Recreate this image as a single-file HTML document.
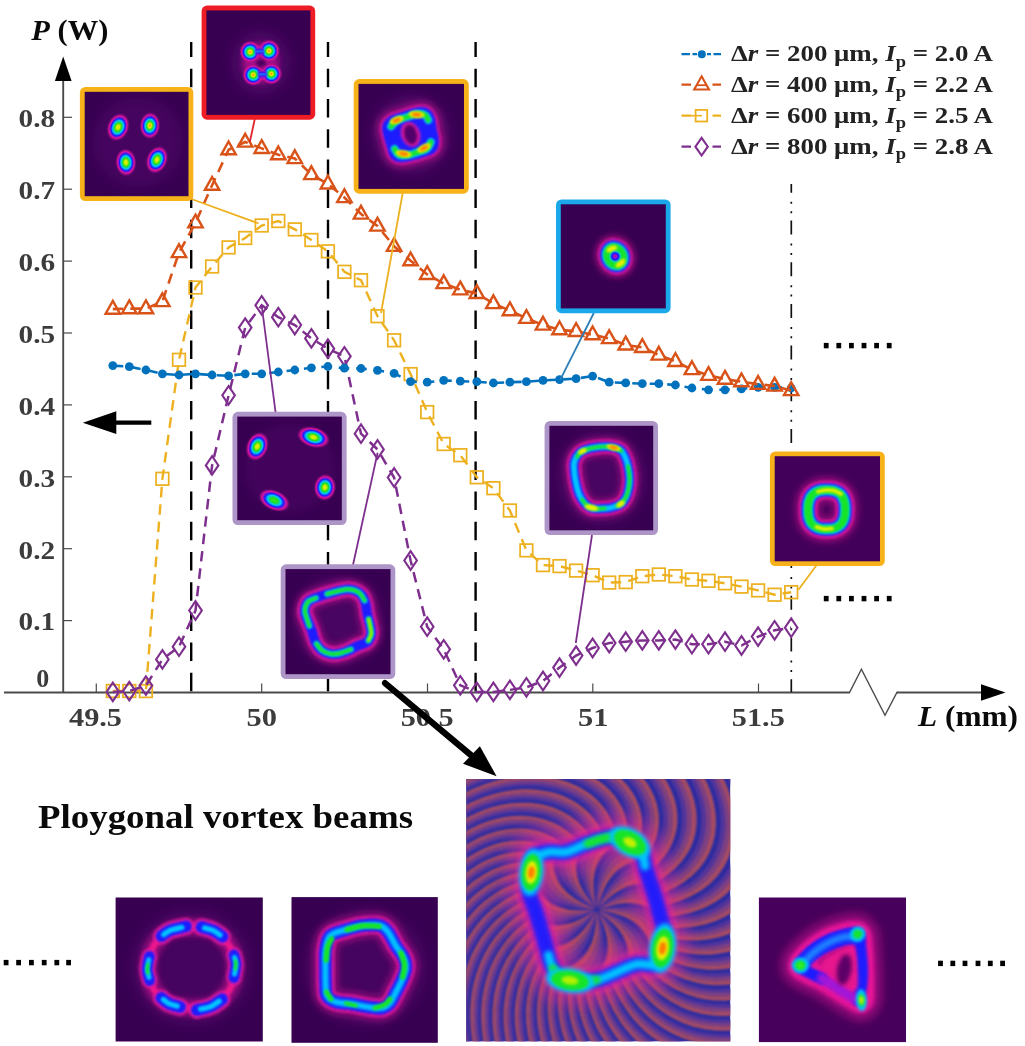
<!DOCTYPE html>
<html lang="en">
<head>
<meta charset="utf-8">
<title>Polygonal vortex beams - output power versus cavity length</title>
<style>
html,body{margin:0;padding:0;background:#fff;}
body{width:1025px;height:1046px;overflow:hidden;}
svg{display:block;}
text{font-family:"Liberation Serif", "DejaVu Serif", serif;font-weight:bold;}
.tk{font-size:25px;fill:#3c3c3c;}
.lg{font-size:24px;fill:#222;}
.it{font-style:italic;}
</style>
</head>
<body>
<svg width="1025" height="1046" viewBox="0 0 1025 1046">
<defs>
<filter id="b05" filterUnits="userSpaceOnUse" x="-1200" y="-1200" width="3600" height="3600"><feGaussianBlur stdDeviation="0.6"/></filter>
<filter id="b1" filterUnits="userSpaceOnUse" x="-1200" y="-1200" width="3600" height="3600"><feGaussianBlur stdDeviation="1"/></filter>
<filter id="b15" filterUnits="userSpaceOnUse" x="-1200" y="-1200" width="3600" height="3600"><feGaussianBlur stdDeviation="1.5"/></filter>
<filter id="b2" filterUnits="userSpaceOnUse" x="-1200" y="-1200" width="3600" height="3600"><feGaussianBlur stdDeviation="2"/></filter>
<filter id="b3" filterUnits="userSpaceOnUse" x="-1200" y="-1200" width="3600" height="3600"><feGaussianBlur stdDeviation="3"/></filter>
<filter id="b4" filterUnits="userSpaceOnUse" x="-1200" y="-1200" width="3600" height="3600"><feGaussianBlur stdDeviation="4.5"/></filter>
<filter id="b7" filterUnits="userSpaceOnUse" x="-1200" y="-1200" width="3600" height="3600"><feGaussianBlur stdDeviation="7"/></filter>
<radialGradient id="g5"><stop offset="0" stop-color="#FF6A00"/><stop offset="0.13" stop-color="#F2EE00"/><stop offset="0.30" stop-color="#20E020"/><stop offset="0.46" stop-color="#00C8FF"/><stop offset="0.60" stop-color="#1C1CFF"/><stop offset="0.76" stop-color="#E3129B"/><stop offset="0.88" stop-color="#B00E90" stop-opacity="0.55"/><stop offset="1" stop-color="#7A0A80" stop-opacity="0"/></radialGradient>
<radialGradient id="g4"><stop offset="0" stop-color="#F2EE00"/><stop offset="0.14" stop-color="#C8EC00"/><stop offset="0.30" stop-color="#20E020"/><stop offset="0.46" stop-color="#00C8FF"/><stop offset="0.60" stop-color="#1C1CFF"/><stop offset="0.76" stop-color="#E3129B"/><stop offset="0.88" stop-color="#B00E90" stop-opacity="0.55"/><stop offset="1" stop-color="#7A0A80" stop-opacity="0"/></radialGradient>
<radialGradient id="g3"><stop offset="0" stop-color="#30E820"/><stop offset="0.22" stop-color="#20E020"/><stop offset="0.42" stop-color="#00C8FF"/><stop offset="0.58" stop-color="#1C1CFF"/><stop offset="0.76" stop-color="#E3129B"/><stop offset="0.88" stop-color="#B00E90" stop-opacity="0.55"/><stop offset="1" stop-color="#7A0A80" stop-opacity="0"/></radialGradient>
</defs>
<rect width="1025" height="1046" fill="#fff"/>

<g stroke="#4a4a4a" fill="none">
<line x1="63.2" y1="78" x2="63.2" y2="693" stroke-width="1.9"/>
<path d="M4 692.5H849.5M896.9 692.5H984" stroke-width="1.9"/>
<path d="M849 692.5H849.5L861.4 669.2L885 715.3L896.9 692.5H898" stroke-width="1.4" stroke-linejoin="miter"/>
<line x1="63.2" y1="620.6" x2="72" y2="620.6" stroke-width="1.2"/>
<line x1="63.2" y1="548.7" x2="72" y2="548.7" stroke-width="1.2"/>
<line x1="63.2" y1="476.8" x2="72" y2="476.8" stroke-width="1.2"/>
<line x1="63.2" y1="404.9" x2="72" y2="404.9" stroke-width="1.2"/>
<line x1="63.2" y1="333.0" x2="72" y2="333.0" stroke-width="1.2"/>
<line x1="63.2" y1="261.1" x2="72" y2="261.1" stroke-width="1.2"/>
<line x1="63.2" y1="189.2" x2="72" y2="189.2" stroke-width="1.2"/>
<line x1="63.2" y1="117.3" x2="72" y2="117.3" stroke-width="1.2"/>
<line x1="96.3" y1="692" x2="96.3" y2="683.5" stroke-width="1.2"/>
<line x1="261.7" y1="692" x2="261.7" y2="683.5" stroke-width="1.2"/>
<line x1="427.5" y1="692" x2="427.5" y2="683.5" stroke-width="1.2"/>
<line x1="592.8" y1="692" x2="592.8" y2="683.5" stroke-width="1.2"/>
<line x1="758.5" y1="692" x2="758.5" y2="683.5" stroke-width="1.2"/>
</g>
<path d="M63.2 56.5L71.6 81H54.9Z" fill="#000"/>
<path d="M1005.5 692.5L981 700.8V684.2Z" fill="#000"/>
<text class="tk" x="36.2" y="686.6" textLength="13" lengthAdjust="spacingAndGlyphs">0</text>
<text class="tk" x="18.6" y="630.4" textLength="36.6" lengthAdjust="spacingAndGlyphs">0.1</text>
<text class="tk" x="18.6" y="558.5" textLength="36.6" lengthAdjust="spacingAndGlyphs">0.2</text>
<text class="tk" x="18.6" y="486.6" textLength="36.6" lengthAdjust="spacingAndGlyphs">0.3</text>
<text class="tk" x="18.6" y="414.7" textLength="36.6" lengthAdjust="spacingAndGlyphs">0.4</text>
<text class="tk" x="18.6" y="342.8" textLength="36.6" lengthAdjust="spacingAndGlyphs">0.5</text>
<text class="tk" x="18.6" y="270.9" textLength="36.6" lengthAdjust="spacingAndGlyphs">0.6</text>
<text class="tk" x="18.6" y="199.0" textLength="36.6" lengthAdjust="spacingAndGlyphs">0.7</text>
<text class="tk" x="18.6" y="127.1" textLength="36.6" lengthAdjust="spacingAndGlyphs">0.8</text>
<text class="tk" x="69.0" y="726.3" textLength="53" lengthAdjust="spacingAndGlyphs">49.5</text>
<text class="tk" x="246.4" y="726.3" textLength="30.5" lengthAdjust="spacingAndGlyphs">50</text>
<text class="tk" x="400.7" y="726.3" textLength="53" lengthAdjust="spacingAndGlyphs">50.5</text>
<text class="tk" x="578.0" y="726.3" textLength="30.5" lengthAdjust="spacingAndGlyphs">51</text>
<text class="tk" x="731.8" y="726.3" textLength="53" lengthAdjust="spacingAndGlyphs">51.5</text>
<text x="31.3" y="39.6" font-size="28.5" fill="#0a0a0a" textLength="77" lengthAdjust="spacingAndGlyphs"><tspan class="it">P</tspan> (W)</text>
<text x="918" y="725.8" font-size="29.5" fill="#0a0a0a" textLength="100" lengthAdjust="spacingAndGlyphs"><tspan class="it">L</tspan> (mm)</text>
<g stroke="#000" stroke-width="2.4" fill="none" stroke-dasharray="18.5 11.7" stroke-dashoffset="3.3">
<line x1="191.2" y1="41.9" x2="191.2" y2="692"/>
<line x1="328" y1="41.9" x2="328" y2="692"/>
<line x1="475.6" y1="41.9" x2="475.6" y2="692"/>
</g>
<line x1="791.3" y1="184" x2="791.3" y2="692" stroke="#111" stroke-width="1.7" stroke-dasharray="14 9 2 7.4 2 7.3" stroke-dashoffset="5.2" fill="none"/>
<polyline points="112.8,691 129.3,691 145.9,691.1 162.4,478.8 179.0,359.8 195.5,287.5 212.1,266.5 228.6,247.4 245.2,238 261.7,225.5 278.3,221 294.8,229.4 311.4,240 327.9,251.3 344.4,271.8 361.0,280.2 377.5,316.2 394.1,340.3 410.6,374.1 427.2,412.1 443.7,444 460.3,455.2 476.8,477.3 493.4,488.2 509.9,510.5 526.4,550.4 543.0,565.1 559.5,566.1 576.1,570.6 592.6,575.2 609.2,582.6 625.7,582.1 642.3,576.2 658.8,574.5 675.4,576.2 691.9,579.5 708.5,580.8 725.0,583.3 741.5,586.6 758.1,590.4 774.6,594.7 791.2,592.2" fill="none" stroke="#EDB120" stroke-width="2.4" stroke-dasharray="10.5 7"/>
<g fill="#fff" fill-opacity="0" stroke="#EDB120" stroke-width="1.75">
<rect x="106.5" y="684.7" width="12.6" height="12.6"/>
<rect x="123.0" y="684.7" width="12.6" height="12.6"/>
<rect x="139.6" y="684.8" width="12.6" height="12.6"/>
<rect x="156.1" y="472.5" width="12.6" height="12.6"/>
<rect x="172.7" y="353.5" width="12.6" height="12.6"/>
<rect x="189.2" y="281.2" width="12.6" height="12.6"/>
<rect x="205.8" y="260.2" width="12.6" height="12.6"/>
<rect x="222.3" y="241.1" width="12.6" height="12.6"/>
<rect x="238.9" y="231.7" width="12.6" height="12.6"/>
<rect x="255.4" y="219.2" width="12.6" height="12.6"/>
<rect x="272.0" y="214.7" width="12.6" height="12.6"/>
<rect x="288.5" y="223.1" width="12.6" height="12.6"/>
<rect x="305.1" y="233.7" width="12.6" height="12.6"/>
<rect x="321.6" y="245.0" width="12.6" height="12.6"/>
<rect x="338.1" y="265.5" width="12.6" height="12.6"/>
<rect x="354.7" y="273.9" width="12.6" height="12.6"/>
<rect x="371.2" y="309.9" width="12.6" height="12.6"/>
<rect x="387.8" y="334.0" width="12.6" height="12.6"/>
<rect x="404.3" y="367.8" width="12.6" height="12.6"/>
<rect x="420.9" y="405.8" width="12.6" height="12.6"/>
<rect x="437.4" y="437.7" width="12.6" height="12.6"/>
<rect x="454.0" y="448.9" width="12.6" height="12.6"/>
<rect x="470.5" y="471.0" width="12.6" height="12.6"/>
<rect x="487.1" y="481.9" width="12.6" height="12.6"/>
<rect x="503.6" y="504.2" width="12.6" height="12.6"/>
<rect x="520.1" y="544.1" width="12.6" height="12.6"/>
<rect x="536.7" y="558.8" width="12.6" height="12.6"/>
<rect x="553.2" y="559.8" width="12.6" height="12.6"/>
<rect x="569.8" y="564.3" width="12.6" height="12.6"/>
<rect x="586.3" y="568.9" width="12.6" height="12.6"/>
<rect x="602.9" y="576.3" width="12.6" height="12.6"/>
<rect x="619.4" y="575.8" width="12.6" height="12.6"/>
<rect x="636.0" y="569.9" width="12.6" height="12.6"/>
<rect x="652.5" y="568.2" width="12.6" height="12.6"/>
<rect x="669.1" y="569.9" width="12.6" height="12.6"/>
<rect x="685.6" y="573.2" width="12.6" height="12.6"/>
<rect x="702.2" y="574.5" width="12.6" height="12.6"/>
<rect x="718.7" y="577.0" width="12.6" height="12.6"/>
<rect x="735.2" y="580.3" width="12.6" height="12.6"/>
<rect x="751.8" y="584.1" width="12.6" height="12.6"/>
<rect x="768.3" y="588.4" width="12.6" height="12.6"/>
<rect x="784.9" y="585.9" width="12.6" height="12.6"/>
</g>
<polyline points="112.8,691.9 129.3,691.1 145.9,685.6 162.4,659.4 179.0,646.7 195.5,610.5 212.1,465.4 228.6,395.3 245.2,327.6 261.7,305.3 278.3,317.2 294.8,325 311.4,338.4 327.9,348.7 344.4,356.3 361.0,433.7 377.5,449.4 394.1,477.5 410.6,560.5 427.2,626.7 443.7,649.3 460.3,685.3 476.8,691.9 493.4,691.9 509.9,689.9 526.4,687.3 543.0,681 559.5,667.6 576.1,655.6 592.6,648 609.2,643 625.7,641.7 642.3,640.4 658.8,640.4 675.4,639.6 691.9,644.2 708.5,644.2 725.0,641.7 741.5,645.5 758.1,636.6 774.6,630.3 791.2,627.7" fill="none" stroke="#7E2F8E" stroke-width="2.5" stroke-dasharray="10.5 7"/>
<g fill="none" stroke="#7E2F8E" stroke-width="2.1">
<path d="M112.8 682.6L119.1 691.9L112.8 701.2L106.5 691.9Z"/>
<path d="M129.3 681.8L135.6 691.1L129.3 700.4L123.0 691.1Z"/>
<path d="M145.9 676.3L152.2 685.6L145.9 694.9L139.6 685.6Z"/>
<path d="M162.4 650.1L168.7 659.4L162.4 668.7L156.1 659.4Z"/>
<path d="M179.0 637.4L185.3 646.7L179.0 656.0L172.7 646.7Z"/>
<path d="M195.5 601.2L201.8 610.5L195.5 619.8L189.2 610.5Z"/>
<path d="M212.1 456.1L218.4 465.4L212.1 474.7L205.8 465.4Z"/>
<path d="M228.6 386.0L234.9 395.3L228.6 404.6L222.3 395.3Z"/>
<path d="M245.2 318.3L251.5 327.6L245.2 336.9L238.9 327.6Z"/>
<path d="M261.7 296.0L268.0 305.3L261.7 314.6L255.4 305.3Z"/>
<path d="M278.3 307.9L284.6 317.2L278.3 326.5L272.0 317.2Z"/>
<path d="M294.8 315.7L301.1 325L294.8 334.3L288.5 325Z"/>
<path d="M311.4 329.1L317.7 338.4L311.4 347.7L305.1 338.4Z"/>
<path d="M327.9 339.4L334.2 348.7L327.9 358.0L321.6 348.7Z"/>
<path d="M344.4 347.0L350.7 356.3L344.4 365.6L338.1 356.3Z"/>
<path d="M361.0 424.4L367.3 433.7L361.0 443.0L354.7 433.7Z"/>
<path d="M377.5 440.1L383.8 449.4L377.5 458.7L371.2 449.4Z"/>
<path d="M394.1 468.2L400.4 477.5L394.1 486.8L387.8 477.5Z"/>
<path d="M410.6 551.2L416.9 560.5L410.6 569.8L404.3 560.5Z"/>
<path d="M427.2 617.4L433.5 626.7L427.2 636.0L420.9 626.7Z"/>
<path d="M443.7 640.0L450.0 649.3L443.7 658.6L437.4 649.3Z"/>
<path d="M460.3 676.0L466.6 685.3L460.3 694.6L454.0 685.3Z"/>
<path d="M476.8 682.6L483.1 691.9L476.8 701.2L470.5 691.9Z"/>
<path d="M493.4 682.6L499.7 691.9L493.4 701.2L487.1 691.9Z"/>
<path d="M509.9 680.6L516.2 689.9L509.9 699.2L503.6 689.9Z"/>
<path d="M526.4 678.0L532.7 687.3L526.4 696.6L520.1 687.3Z"/>
<path d="M543.0 671.7L549.3 681L543.0 690.3L536.7 681Z"/>
<path d="M559.5 658.3L565.8 667.6L559.5 676.9L553.2 667.6Z"/>
<path d="M576.1 646.3L582.4 655.6L576.1 664.9L569.8 655.6Z"/>
<path d="M592.6 638.7L598.9 648L592.6 657.3L586.3 648Z"/>
<path d="M609.2 633.7L615.5 643L609.2 652.3L602.9 643Z"/>
<path d="M625.7 632.4L632.0 641.7L625.7 651.0L619.4 641.7Z"/>
<path d="M642.3 631.1L648.6 640.4L642.3 649.7L636.0 640.4Z"/>
<path d="M658.8 631.1L665.1 640.4L658.8 649.7L652.5 640.4Z"/>
<path d="M675.4 630.3L681.7 639.6L675.4 648.9L669.1 639.6Z"/>
<path d="M691.9 634.9L698.2 644.2L691.9 653.5L685.6 644.2Z"/>
<path d="M708.5 634.9L714.8 644.2L708.5 653.5L702.2 644.2Z"/>
<path d="M725.0 632.4L731.3 641.7L725.0 651.0L718.7 641.7Z"/>
<path d="M741.5 636.2L747.8 645.5L741.5 654.8L735.2 645.5Z"/>
<path d="M758.1 627.3L764.4 636.6L758.1 645.9L751.8 636.6Z"/>
<path d="M774.6 621.0L780.9 630.3L774.6 639.6L768.3 630.3Z"/>
<path d="M791.2 618.4L797.5 627.7L791.2 637.0L784.9 627.7Z"/>
</g>
<polyline points="112.8,365.6 129.3,366.7 145.9,370 162.4,373.8 179.0,375 195.5,373.8 212.1,375 228.6,375.8 245.2,373.8 261.7,373.8 278.3,372 294.8,370 311.4,367.8 327.9,366.5 344.4,368.2 361.0,368.5 377.5,370.3 394.1,373.3 410.6,381.7 427.2,382.2 443.7,380.4 460.3,381.2 476.8,381.7 493.4,383 509.9,382.2 526.4,381.7 543.0,380.4 559.5,379.6 576.1,378.6 592.6,376.1 609.2,382.2 625.7,382.9 642.3,383.7 658.8,383.7 675.4,385 691.9,388 708.5,389.8 725.0,389.8 741.5,388.8 758.1,387.3 774.6,387.3 791.2,388" fill="none" stroke="#0072BD" stroke-width="2.6" stroke-dasharray="10.5 7"/>
<g fill="#0072BD">
<circle cx="112.8" cy="365.6" r="4.4"/>
<circle cx="129.3" cy="366.7" r="4.4"/>
<circle cx="145.9" cy="370" r="4.4"/>
<circle cx="162.4" cy="373.8" r="4.4"/>
<circle cx="179.0" cy="375" r="4.4"/>
<circle cx="195.5" cy="373.8" r="4.4"/>
<circle cx="212.1" cy="375" r="4.4"/>
<circle cx="228.6" cy="375.8" r="4.4"/>
<circle cx="245.2" cy="373.8" r="4.4"/>
<circle cx="261.7" cy="373.8" r="4.4"/>
<circle cx="278.3" cy="372" r="4.4"/>
<circle cx="294.8" cy="370" r="4.4"/>
<circle cx="311.4" cy="367.8" r="4.4"/>
<circle cx="327.9" cy="366.5" r="4.4"/>
<circle cx="344.4" cy="368.2" r="4.4"/>
<circle cx="361.0" cy="368.5" r="4.4"/>
<circle cx="377.5" cy="370.3" r="4.4"/>
<circle cx="394.1" cy="373.3" r="4.4"/>
<circle cx="410.6" cy="381.7" r="4.4"/>
<circle cx="427.2" cy="382.2" r="4.4"/>
<circle cx="443.7" cy="380.4" r="4.4"/>
<circle cx="460.3" cy="381.2" r="4.4"/>
<circle cx="476.8" cy="381.7" r="4.4"/>
<circle cx="493.4" cy="383" r="4.4"/>
<circle cx="509.9" cy="382.2" r="4.4"/>
<circle cx="526.4" cy="381.7" r="4.4"/>
<circle cx="543.0" cy="380.4" r="4.4"/>
<circle cx="559.5" cy="379.6" r="4.4"/>
<circle cx="576.1" cy="378.6" r="4.4"/>
<circle cx="592.6" cy="376.1" r="4.4"/>
<circle cx="609.2" cy="382.2" r="4.4"/>
<circle cx="625.7" cy="382.9" r="4.4"/>
<circle cx="642.3" cy="383.7" r="4.4"/>
<circle cx="658.8" cy="383.7" r="4.4"/>
<circle cx="675.4" cy="385" r="4.4"/>
<circle cx="691.9" cy="388" r="4.4"/>
<circle cx="708.5" cy="389.8" r="4.4"/>
<circle cx="725.0" cy="389.8" r="4.4"/>
<circle cx="741.5" cy="388.8" r="4.4"/>
<circle cx="758.1" cy="387.3" r="4.4"/>
<circle cx="774.6" cy="387.3" r="4.4"/>
<circle cx="791.2" cy="388" r="4.4"/>
</g>
<polyline points="112.8,309.1 129.3,308.6 145.9,308.6 162.4,301.5 179.0,252.5 195.5,222.8 212.1,185.2 228.6,149.7 245.2,142 261.7,148.4 278.3,154.7 294.8,158.5 311.4,174.5 327.9,183.9 344.4,197.5 361.0,214 377.5,226 394.1,246.3 410.6,260.7 427.2,274.4 443.7,283.5 460.3,289.8 476.8,293.4 493.4,303.5 509.9,310.6 526.4,318.3 543.0,325 559.5,329.7 576.1,331.4 592.6,334.7 609.2,338.5 625.7,344.9 642.3,347.4 658.8,355 675.4,361.4 691.9,369.5 708.5,375.3 725.0,379.1 741.5,381.7 758.1,384.2 774.6,386 791.2,390.5" fill="none" stroke="#D95319" stroke-width="2.6" stroke-dasharray="10.5 7"/>
<g fill="none" stroke="#D95319" stroke-width="2.4" stroke-linejoin="miter">
<path d="M112.8 300.9L120.0 313.7H105.6Z"/>
<path d="M129.3 300.4L136.5 313.2H122.1Z"/>
<path d="M145.9 300.4L153.1 313.2H138.7Z"/>
<path d="M162.4 293.3L169.6 306.1H155.2Z"/>
<path d="M179.0 244.3L186.2 257.1H171.8Z"/>
<path d="M195.5 214.6L202.7 227.4H188.3Z"/>
<path d="M212.1 177.0L219.3 189.8H204.9Z"/>
<path d="M228.6 141.5L235.8 154.3H221.4Z"/>
<path d="M245.2 133.8L252.4 146.6H238.0Z"/>
<path d="M261.7 140.2L268.9 153.0H254.5Z"/>
<path d="M278.3 146.5L285.5 159.3H271.1Z"/>
<path d="M294.8 150.3L302.0 163.1H287.6Z"/>
<path d="M311.4 166.3L318.6 179.1H304.2Z"/>
<path d="M327.9 175.7L335.1 188.5H320.7Z"/>
<path d="M344.4 189.3L351.6 202.1H337.2Z"/>
<path d="M361.0 205.8L368.2 218.6H353.8Z"/>
<path d="M377.5 217.8L384.7 230.6H370.3Z"/>
<path d="M394.1 238.1L401.3 250.9H386.9Z"/>
<path d="M410.6 252.5L417.8 265.3H403.4Z"/>
<path d="M427.2 266.2L434.4 279.0H420.0Z"/>
<path d="M443.7 275.3L450.9 288.1H436.5Z"/>
<path d="M460.3 281.6L467.5 294.4H453.1Z"/>
<path d="M476.8 285.2L484.0 298.0H469.6Z"/>
<path d="M493.4 295.3L500.6 308.1H486.2Z"/>
<path d="M509.9 302.4L517.1 315.2H502.7Z"/>
<path d="M526.4 310.1L533.6 322.9H519.2Z"/>
<path d="M543.0 316.8L550.2 329.6H535.8Z"/>
<path d="M559.5 321.5L566.7 334.3H552.3Z"/>
<path d="M576.1 323.2L583.3 336.0H568.9Z"/>
<path d="M592.6 326.5L599.8 339.3H585.4Z"/>
<path d="M609.2 330.3L616.4 343.1H602.0Z"/>
<path d="M625.7 336.7L632.9 349.5H618.5Z"/>
<path d="M642.3 339.2L649.5 352.0H635.1Z"/>
<path d="M658.8 346.8L666.0 359.6H651.6Z"/>
<path d="M675.4 353.2L682.6 366.0H668.2Z"/>
<path d="M691.9 361.3L699.1 374.1H684.7Z"/>
<path d="M708.5 367.1L715.7 379.9H701.3Z"/>
<path d="M725.0 370.9L732.2 383.7H717.8Z"/>
<path d="M741.5 373.5L748.7 386.3H734.3Z"/>
<path d="M758.1 376.0L765.3 388.8H750.9Z"/>
<path d="M774.6 377.8L781.8 390.6H767.4Z"/>
<path d="M791.2 382.3L798.4 395.1H784.0Z"/>
</g>
<g fill="none" stroke-width="1.8">
<line x1="191.4" y1="199" x2="258.6" y2="223.5" stroke="#EDB120"/>
<line x1="254.8" y1="119" x2="249.8" y2="142" stroke="#E0262B"/>
<line x1="402.7" y1="193" x2="381" y2="313" stroke="#EDB120"/>
<line x1="261.7" y1="305.5" x2="275.6" y2="412.5" stroke="#7E2F8E"/>
<line x1="377.6" y1="452.7" x2="353" y2="565" stroke="#7E2F8E"/>
<line x1="593.8" y1="313" x2="560.3" y2="379.6" stroke="#2C7FB8"/>
<line x1="592" y1="535" x2="575.8" y2="643" stroke="#7E2F8E"/>
<line x1="816.3" y1="565.5" x2="798.5" y2="589.7" stroke="#EDB120"/>
</g>
<path d="M82.8 422.7L116.3 411.3V420.6H151.3V424.8H116.3V434Z" fill="#000"/>
<line x1="385" y1="683.1" x2="472" y2="756" stroke="#000" stroke-width="6.2" stroke-linecap="round"/>
<path d="M496.6 776.3L463 763.8L479.9 746.3Z" fill="#000"/>
<rect x="823.8" y="342.9" width="4.8" height="5.3999999999999995" fill="#000"/>
<rect x="836.4" y="342.9" width="4.8" height="5.3999999999999995" fill="#000"/>
<rect x="849.0" y="342.9" width="4.8" height="5.3999999999999995" fill="#000"/>
<rect x="861.6" y="342.9" width="4.8" height="5.3999999999999995" fill="#000"/>
<rect x="874.2" y="342.9" width="4.8" height="5.3999999999999995" fill="#000"/>
<rect x="886.8" y="342.9" width="4.8" height="5.3999999999999995" fill="#000"/>
<rect x="823.8" y="595.9" width="4.8" height="5.3999999999999995" fill="#000"/>
<rect x="836.4" y="595.9" width="4.8" height="5.3999999999999995" fill="#000"/>
<rect x="849.0" y="595.9" width="4.8" height="5.3999999999999995" fill="#000"/>
<rect x="861.6" y="595.9" width="4.8" height="5.3999999999999995" fill="#000"/>
<rect x="874.2" y="595.9" width="4.8" height="5.3999999999999995" fill="#000"/>
<rect x="886.8" y="595.9" width="4.8" height="5.3999999999999995" fill="#000"/>
<rect x="3.7" y="959.9" width="4.8" height="5.3999999999999995" fill="#000"/>
<rect x="16.2" y="959.9" width="4.8" height="5.3999999999999995" fill="#000"/>
<rect x="29.0" y="959.9" width="4.8" height="5.3999999999999995" fill="#000"/>
<rect x="41.8" y="959.9" width="4.8" height="5.3999999999999995" fill="#000"/>
<rect x="54.4" y="959.9" width="4.8" height="5.3999999999999995" fill="#000"/>
<rect x="66.2" y="959.9" width="4.8" height="5.3999999999999995" fill="#000"/>
<rect x="938.1" y="960.7" width="4.8" height="5.3999999999999995" fill="#000"/>
<rect x="950.4" y="960.7" width="4.8" height="5.3999999999999995" fill="#000"/>
<rect x="962.6" y="960.7" width="4.8" height="5.3999999999999995" fill="#000"/>
<rect x="975.6" y="960.7" width="4.8" height="5.3999999999999995" fill="#000"/>
<rect x="987.9" y="960.7" width="4.8" height="5.3999999999999995" fill="#000"/>
<rect x="1000.2" y="960.7" width="4.8" height="5.3999999999999995" fill="#000"/>
<text class="lg" x="731" y="61" textLength="262" lengthAdjust="spacingAndGlyphs">Δ<tspan class="it">r</tspan> = 200 μm, <tspan class="it">I</tspan><tspan font-size="16.5" dy="5.5">p</tspan><tspan dy="-5.5"> = 2.0 A</tspan></text>
<path d="M681.5 54.2H690M692.5 54.2H697M707 54.2H711M713.5 54.2H721" stroke="#0072BD" stroke-width="2.2" fill="none"/>
<circle cx="701.8" cy="54.2" r="4" fill="#0072BD"/>
<text class="lg" x="731" y="91.5" textLength="262" lengthAdjust="spacingAndGlyphs">Δ<tspan class="it">r</tspan> = 400 μm, <tspan class="it">I</tspan><tspan font-size="16.5" dy="5.5">p</tspan><tspan dy="-5.5"> = 2.2 A</tspan></text>
<path d="M681.5 84.7H691M712.5 84.7H721" stroke="#D95319" stroke-width="2.2" fill="none"/>
<path d="M701.6 76.3L709 89.5H694.2Z" stroke="#D95319" stroke-width="2.1" fill="none"/>
<path d="M696.5 85.2H707" stroke="#D95319" stroke-width="1.8"/>
<text class="lg" x="731" y="122.5" textLength="262" lengthAdjust="spacingAndGlyphs">Δ<tspan class="it">r</tspan> = 600 μm, <tspan class="it">I</tspan><tspan font-size="16.5" dy="5.5">p</tspan><tspan dy="-5.5"> = 2.5 A</tspan></text>
<path d="M681.5 115.7H691M712.5 115.7H721" stroke="#EDB120" stroke-width="2.2" fill="none"/>
<rect x="695.6" y="109.9" width="11.6" height="11.6" stroke="#EDB120" stroke-width="1.8" fill="none"/>
<path d="M691 115.7H702" stroke="#EDB120" stroke-width="1.6"/>
<text class="lg" x="731" y="153.5" textLength="262" lengthAdjust="spacingAndGlyphs">Δ<tspan class="it">r</tspan> = 800 μm, <tspan class="it">I</tspan><tspan font-size="16.5" dy="5.5">p</tspan><tspan dy="-5.5"> = 2.8 A</tspan></text>
<path d="M681.5 146.7H691M712.5 146.7H721" stroke="#7E2F8E" stroke-width="2.2" fill="none"/>
<path d="M701.6 137.89999999999998L707.8 146.7L701.6 155.5L695.4 146.7Z" stroke="#7E2F8E" stroke-width="2.1" fill="none"/>
<text x="38" y="828" font-size="34.5" fill="#0a0a0a" textLength="375" lengthAdjust="spacingAndGlyphs">Ploygonal vortex beams</text>
<rect x="79.9" y="87" width="113.4" height="114" rx="5.5" fill="#F7B21A"/>
<clipPath id="c1"><rect x="84.7" y="91.8" width="103.8" height="104.4"/></clipPath>
<rect x="84.7" y="91.8" width="103.8" height="104.4" fill="#370051"/>
<g clip-path="url(#c1)">
<ellipse cx="138" cy="142" rx="46" ry="46" fill="#62097C" opacity="0.35" filter="url(#b7)"/>
<ellipse rx="11.2" ry="14.8" fill="url(#g4)" transform="translate(118.1 127.2) rotate(22)"/>
<ellipse rx="10.6" ry="13.8" fill="url(#g5)" transform="translate(149.9 125.6) rotate(4)"/>
<ellipse rx="10.8" ry="14.2" fill="url(#g4)" transform="translate(125.9 162.4) rotate(-4)"/>
<ellipse rx="10.8" ry="14.6" fill="url(#g4)" transform="translate(156.9 159.8) rotate(22)"/>
</g>
<rect x="201.6" y="5.6" width="113.6" height="114.1" rx="5.5" fill="#EE1C25"/>
<clipPath id="c2"><rect x="206.4" y="10.4" width="104.0" height="104.5"/></clipPath>
<rect x="206.4" y="10.4" width="104.0" height="104.5" fill="#370051"/>
<g clip-path="url(#c2)">
<ellipse cx="260.8" cy="62.8" rx="30" ry="32" fill="#62097C" opacity="0.5" filter="url(#b7)"/>
<ellipse cx="260.6" cy="63" rx="18" ry="20" fill="#E3129B" opacity="0.6" filter="url(#b3)"/>
<ellipse rx="11.2" ry="11.6" fill="url(#g5)" transform="translate(250.2 51.9) rotate(0)"/>
<ellipse rx="11.4" ry="11.8" fill="url(#g5)" transform="translate(269.0 50.9) rotate(0)"/>
<ellipse rx="11.4" ry="11.4" fill="url(#g5)" transform="translate(253.3 74.8) rotate(0)"/>
<ellipse rx="11.2" ry="11.2" fill="url(#g5)" transform="translate(271.4 73.8) rotate(0)"/>
<ellipse cx="259.6" cy="51.4" rx="3.6" ry="5.2" fill="#E3129B" filter="url(#b1)"/>
<ellipse cx="259.6" cy="51.4" rx="4.4" ry="3.0" fill="#1C1CFF" filter="url(#b1)"/>
<ellipse cx="259.6" cy="51.4" rx="4.6" ry="1.2" fill="#2060FF" filter="url(#b05)"/>
<ellipse cx="262.4" cy="74.3" rx="3.6" ry="5.2" fill="#E3129B" filter="url(#b1)"/>
<ellipse cx="262.4" cy="74.3" rx="4.4" ry="3.0" fill="#1C1CFF" filter="url(#b1)"/>
<ellipse cx="262.4" cy="74.3" rx="4.6" ry="1.2" fill="#2060FF" filter="url(#b05)"/>
<ellipse cx="261" cy="63.2" rx="5" ry="3.6" fill="#4A0460" filter="url(#b15)"/>
</g>
<rect x="353.7" y="79.1" width="115.1" height="114.6" rx="5.5" fill="#F7B21A"/>
<clipPath id="c3"><rect x="358.5" y="83.9" width="105.5" height="105.0"/></clipPath>
<rect x="358.5" y="83.9" width="105.5" height="105.0" fill="#370051"/>
<g clip-path="url(#c3)">
<ellipse cx="411" cy="134.5" rx="40" ry="40" fill="#62097C" opacity="0.5" filter="url(#b7)"/>
<g fill="none" stroke-linejoin="round" stroke-linecap="round">
<path d="M388.5 127.1C389.0 124.7 390.6 123.0 393.3 121.5C396.0 119.9 400.8 119.1 404.5 117.8C408.2 116.6 412.3 114.8 415.6 114.1C419.0 113.4 422.2 112.8 424.5 113.8C426.7 114.7 428.0 117.3 429.0 120.1C430.0 122.8 429.9 126.9 430.5 130.3C431.1 133.7 432.7 137.7 432.7 140.5C432.8 143.4 432.7 145.7 431.1 147.4C429.5 149.1 426.3 149.7 423.1 150.8C419.9 151.9 415.6 153.2 411.9 154.1C408.2 155.0 403.5 156.1 400.8 156.0C398.0 155.9 396.9 155.4 395.5 153.6C394.2 151.8 393.7 148.1 392.8 145.2C391.8 142.2 390.7 138.9 390.0 135.9C389.3 132.9 387.9 129.5 388.5 127.1Z" stroke="#E3129B" stroke-width="25.2" filter="url(#b3)" opacity="0.4"/>
<path d="M388.5 127.1C389.0 124.7 390.6 123.0 393.3 121.5C396.0 119.9 400.8 119.1 404.5 117.8C408.2 116.6 412.3 114.8 415.6 114.1C419.0 113.4 422.2 112.8 424.5 113.8C426.7 114.7 428.0 117.3 429.0 120.1C430.0 122.8 429.9 126.9 430.5 130.3C431.1 133.7 432.7 137.7 432.7 140.5C432.8 143.4 432.7 145.7 431.1 147.4C429.5 149.1 426.3 149.7 423.1 150.8C419.9 151.9 415.6 153.2 411.9 154.1C408.2 155.0 403.5 156.1 400.8 156.0C398.0 155.9 396.9 155.4 395.5 153.6C394.2 151.8 393.7 148.1 392.8 145.2C391.8 142.2 390.7 138.9 390.0 135.9C389.3 132.9 387.9 129.5 388.5 127.1Z" stroke="#E3129B" stroke-width="17.1" filter="url(#b15)" opacity="0.9"/>
<path d="M388.5 127.1C389.0 124.7 390.6 123.0 393.3 121.5C396.0 119.9 400.8 119.1 404.5 117.8C408.2 116.6 412.3 114.8 415.6 114.1C419.0 113.4 422.2 112.8 424.5 113.8C426.7 114.7 428.0 117.3 429.0 120.1C430.0 122.8 429.9 126.9 430.5 130.3C431.1 133.7 432.7 137.7 432.7 140.5C432.8 143.4 432.7 145.7 431.1 147.4C429.5 149.1 426.3 149.7 423.1 150.8C419.9 151.9 415.6 153.2 411.9 154.1C408.2 155.0 403.5 156.1 400.8 156.0C398.0 155.9 396.9 155.4 395.5 153.6C394.2 151.8 393.7 148.1 392.8 145.2C391.8 142.2 390.7 138.9 390.0 135.9C389.3 132.9 387.9 129.5 388.5 127.1Z" stroke="#1C1CFF" stroke-width="12.6" filter="url(#b1)"/>
</g>
<path d="M388.5 127.1C389.0 124.7 390.6 123.0 393.3 121.5C396.0 119.9 400.8 119.1 404.5 117.8C408.2 116.6 412.3 114.8 415.6 114.1C419.0 113.4 422.2 112.8 424.5 113.8C426.7 114.7 428.0 117.3 429.0 120.1C430.0 122.8 429.9 126.9 430.5 130.3C431.1 133.7 432.7 137.7 432.7 140.5C432.8 143.4 432.7 145.7 431.1 147.4C429.5 149.1 426.3 149.7 423.1 150.8C419.9 151.9 415.6 153.2 411.9 154.1C408.2 155.0 403.5 156.1 400.8 156.0C398.0 155.9 396.9 155.4 395.5 153.6C394.2 151.8 393.7 148.1 392.8 145.2C391.8 142.2 390.7 138.9 390.0 135.9C389.3 132.9 387.9 129.5 388.5 127.1Z" fill="#1C1CFF"/>
<g fill="none" stroke-linejoin="round" stroke-linecap="round">
<path d="M391.0 126.6C392.0 125.6 394.5 122.0 397.0 120.5C399.6 118.9 403.1 118.4 406.3 117.3C409.6 116.2 413.5 114.3 416.6 113.9C419.7 113.5 423.0 113.8 424.9 114.9C426.9 115.9 427.7 119.2 428.3 120.1" stroke="#00C4FF" stroke-width="7.8" filter="url(#b1)"/>
<path d="M391.0 126.6C392.0 125.6 394.5 122.0 397.0 120.5C399.6 118.9 403.1 118.4 406.3 117.3C409.6 116.2 413.5 114.3 416.6 113.9C419.7 113.5 423.0 113.8 424.9 114.9C426.9 115.9 427.7 119.2 428.3 120.1" stroke="#14E428" stroke-width="4.8" filter="url(#b1)"/>
</g>
<g fill="none" stroke-linejoin="round" stroke-linecap="round">
<path d="M394.6 148.9C395.3 149.9 396.6 153.8 398.9 154.9C401.2 155.9 405.1 155.5 408.2 155.0C411.3 154.6 414.4 153.3 417.5 152.3C420.6 151.2 424.6 150.6 426.8 148.9C429.0 147.2 430.2 143.2 430.9 142.0" stroke="#00C4FF" stroke-width="7.8" filter="url(#b1)"/>
<path d="M394.6 148.9C395.3 149.9 396.6 153.8 398.9 154.9C401.2 155.9 405.1 155.5 408.2 155.0C411.3 154.6 414.4 153.3 417.5 152.3C420.6 151.2 424.6 150.6 426.8 148.9C429.0 147.2 430.2 143.2 430.9 142.0" stroke="#14E428" stroke-width="4.8" filter="url(#b1)"/>
</g>
<g transform="translate(396.6 120.2) rotate(-20)"><ellipse rx="7.4" ry="3.5" fill="#E6F000" filter="url(#b1)"/><ellipse rx="4.4" ry="2.1" fill="#FF7A00" filter="url(#b1)"/></g>
<g transform="translate(416.6 114.6) rotate(5)"><ellipse rx="8.0" ry="3.4" fill="#E6F000" filter="url(#b1)"/><ellipse rx="4.8" ry="2.0" fill="#FF7A00" filter="url(#b1)"/></g>
<g transform="translate(403.6 153.8) rotate(10)"><ellipse rx="8.2" ry="3.5" fill="#E6F000" filter="url(#b1)"/><ellipse rx="4.9" ry="2.1" fill="#FF7A00" filter="url(#b1)"/></g>
<g transform="translate(424.0 148.0) rotate(-28)"><ellipse rx="7.4" ry="3.4" fill="#E6F000" filter="url(#b1)"/><ellipse rx="4.4" ry="2.0" fill="#FF7A00" filter="url(#b1)"/></g>
<ellipse cx="410.6" cy="134.4" rx="9.4" ry="12.6" transform="rotate(-20 410.6 134.4)" fill="#E3129B" filter="url(#b15)"/>
<ellipse cx="410.6" cy="134.4" rx="6.4" ry="10" transform="rotate(-14 410.6 134.4)" fill="#50046A" filter="url(#b15)"/>
</g>
<rect x="556" y="199.5" width="114.6" height="113.7" rx="5.5" fill="#1BA8EA"/>
<clipPath id="c4"><rect x="560.8" y="204.3" width="105.0" height="104.1"/></clipPath>
<rect x="560.8" y="204.3" width="105.0" height="104.1" fill="#370051"/>
<g clip-path="url(#c4)">
<g transform="translate(615.2 256.4) rotate(-30)">
<ellipse rx="20" ry="22" fill="#E3129B" opacity="0.5" filter="url(#b3)"/>
<ellipse rx="16.6" ry="18.6" fill="#E3129B" filter="url(#b15)"/>
<ellipse rx="14.6" ry="16.4" fill="#1C1CFF" filter="url(#b1)"/>
<ellipse rx="12.8" ry="14.6" fill="#00C4FF" filter="url(#b1)"/>
<ellipse rx="11.4" ry="13.2" fill="#14E428" filter="url(#b1)"/>
<ellipse cx="0.8" cy="-8.2" rx="5.8" ry="3" fill="#E6F000" filter="url(#b1)" transform="rotate(8 0.8 -8.2)"/>
<ellipse cx="1.2" cy="8.6" rx="5.8" ry="3.2" fill="#E6F000" filter="url(#b1)" transform="rotate(-8 1.2 8.6)"/>
<circle r="5.6" fill="#00C4FF" filter="url(#b1)"/><circle r="4.4" fill="#1C1CFF" filter="url(#b05)"/><circle r="2.4" fill="#A010C0" filter="url(#b05)"/>
</g></g>
<rect x="232.5" y="411.8" width="114.1" height="113.2" rx="5.5" fill="#AD95C7"/>
<clipPath id="c5"><rect x="237.3" y="416.6" width="104.5" height="103.6"/></clipPath>
<rect x="237.3" y="416.6" width="104.5" height="103.6" fill="#370051"/>
<g clip-path="url(#c5)">
<ellipse cx="290" cy="468" rx="46" ry="44" fill="#62097C" opacity="0.3" filter="url(#b7)"/>
<ellipse rx="11.2" ry="15.2" fill="url(#g4)" transform="translate(257.2 446.5) rotate(22)"/>
<ellipse rx="17.2" ry="10.6" fill="url(#g4)" transform="translate(313.5 437.2) rotate(16)"/>
<ellipse rx="16.8" ry="10.4" fill="url(#g3)" transform="translate(274.2 500.3) rotate(24)"/>
<ellipse rx="11.4" ry="13.8" fill="url(#g4)" transform="translate(324.9 487.4) rotate(6)"/>
</g>
<rect x="280.7" y="564.3" width="114.6" height="114.7" rx="5.5" fill="#AD95C7"/>
<clipPath id="c6"><rect x="285.5" y="569.1" width="105.0" height="105.1"/></clipPath>
<rect x="285.5" y="569.1" width="105.0" height="105.1" fill="#370051"/>
<g clip-path="url(#c6)">
<ellipse cx="338" cy="621" rx="46" ry="46" fill="#62097C" opacity="0.4" filter="url(#b7)"/>
<g fill="none" stroke-linejoin="round" stroke-linecap="round">
<path d="M319.5 596.4C323.4 594.9 326.8 594.0 331.7 592.8C336.6 591.6 344.0 589.0 348.9 589.3C353.8 589.6 358.3 592.0 361.1 594.4C363.9 596.8 364.6 600.3 365.6 603.5C366.6 606.7 366.4 609.9 367.2 613.6C368.0 617.3 369.5 622.4 370.2 625.8C370.9 629.2 371.7 631.2 371.2 633.9C370.7 636.6 369.6 640.0 367.2 642.0C364.8 644.0 360.4 644.6 357.0 646.1C353.6 647.6 350.8 649.9 346.9 651.2C343.0 652.6 337.9 654.4 333.7 654.2C329.5 654.0 324.6 652.2 321.5 650.2C318.4 648.2 317.0 645.2 315.4 642.0C313.8 638.8 313.2 634.6 311.9 630.9C310.5 627.2 308.5 622.9 307.3 619.7C306.1 616.5 304.6 614.6 304.8 611.6C305.0 608.6 305.9 604.0 308.3 601.5C310.8 599.0 315.6 597.9 319.5 596.4Z" stroke="#E3129B" stroke-width="21.1" filter="url(#b3)" opacity="0.4"/>
<path d="M319.5 596.4C323.4 594.9 326.8 594.0 331.7 592.8C336.6 591.6 344.0 589.0 348.9 589.3C353.8 589.6 358.3 592.0 361.1 594.4C363.9 596.8 364.6 600.3 365.6 603.5C366.6 606.7 366.4 609.9 367.2 613.6C368.0 617.3 369.5 622.4 370.2 625.8C370.9 629.2 371.7 631.2 371.2 633.9C370.7 636.6 369.6 640.0 367.2 642.0C364.8 644.0 360.4 644.6 357.0 646.1C353.6 647.6 350.8 649.9 346.9 651.2C343.0 652.6 337.9 654.4 333.7 654.2C329.5 654.0 324.6 652.2 321.5 650.2C318.4 648.2 317.0 645.2 315.4 642.0C313.8 638.8 313.2 634.6 311.9 630.9C310.5 627.2 308.5 622.9 307.3 619.7C306.1 616.5 304.6 614.6 304.8 611.6C305.0 608.6 305.9 604.0 308.3 601.5C310.8 599.0 315.6 597.9 319.5 596.4Z" stroke="#E3129B" stroke-width="15.4" filter="url(#b15)" opacity="0.9"/>
<path d="M319.5 596.4C323.4 594.9 326.8 594.0 331.7 592.8C336.6 591.6 344.0 589.0 348.9 589.3C353.8 589.6 358.3 592.0 361.1 594.4C363.9 596.8 364.6 600.3 365.6 603.5C366.6 606.7 366.4 609.9 367.2 613.6C368.0 617.3 369.5 622.4 370.2 625.8C370.9 629.2 371.7 631.2 371.2 633.9C370.7 636.6 369.6 640.0 367.2 642.0C364.8 644.0 360.4 644.6 357.0 646.1C353.6 647.6 350.8 649.9 346.9 651.2C343.0 652.6 337.9 654.4 333.7 654.2C329.5 654.0 324.6 652.2 321.5 650.2C318.4 648.2 317.0 645.2 315.4 642.0C313.8 638.8 313.2 634.6 311.9 630.9C310.5 627.2 308.5 622.9 307.3 619.7C306.1 616.5 304.6 614.6 304.8 611.6C305.0 608.6 305.9 604.0 308.3 601.5C310.8 599.0 315.6 597.9 319.5 596.4Z" stroke="#1C1CFF" stroke-width="9.6" filter="url(#b1)"/>
</g>
<g fill="none" stroke-linejoin="round" stroke-linecap="round">
<path d="M327.0 594.0C328.8 593.5 334.3 591.8 338.0 591.0C341.7 590.2 345.5 589.0 349.0 589.3C352.5 589.6 356.4 590.7 359.0 592.6C361.6 594.5 363.7 599.3 364.6 600.6" stroke="#00C4FF" stroke-width="5.6" filter="url(#b1)"/>
<path d="M327.0 594.0C328.8 593.5 334.3 591.8 338.0 591.0C341.7 590.2 345.5 589.0 349.0 589.3C352.5 589.6 356.4 590.7 359.0 592.6C361.6 594.5 363.7 599.3 364.6 600.6" stroke="#14E428" stroke-width="3.5" filter="url(#b1)"/>
</g>
<g fill="none" stroke-linejoin="round" stroke-linecap="round">
<path d="M368.6 619.0C368.9 620.3 370.0 624.5 370.4 627.0C370.8 629.5 371.5 631.7 371.2 634.0C370.9 636.3 368.9 639.5 368.4 640.6" stroke="#00C4FF" stroke-width="5.6" filter="url(#b1)"/>
<path d="M368.6 619.0C368.9 620.3 370.0 624.5 370.4 627.0C370.8 629.5 371.5 631.7 371.2 634.0C370.9 636.3 368.9 639.5 368.4 640.6" stroke="#14E428" stroke-width="3.5" filter="url(#b1)"/>
<path d="M368.6 619.0C368.9 620.3 370.0 624.5 370.4 627.0C370.8 629.5 371.5 631.7 371.2 634.0C370.9 636.3 368.9 639.5 368.4 640.6" stroke="#B8F000" stroke-width="2.2" filter="url(#b1)"/>
</g>
<g fill="none" stroke-linejoin="round" stroke-linecap="round">
<path d="M351.0 649.4C349.3 650.0 344.3 652.2 341.0 653.0C337.7 653.8 334.2 654.4 331.0 654.0C327.8 653.6 324.4 652.1 322.0 650.4C319.6 648.7 317.3 644.7 316.4 643.6" stroke="#00C4FF" stroke-width="5.6" filter="url(#b1)"/>
<path d="M351.0 649.4C349.3 650.0 344.3 652.2 341.0 653.0C337.7 653.8 334.2 654.4 331.0 654.0C327.8 653.6 324.4 652.1 322.0 650.4C319.6 648.7 317.3 644.7 316.4 643.6" stroke="#14E428" stroke-width="3.5" filter="url(#b1)"/>
</g>
<g fill="none" stroke-linejoin="round" stroke-linecap="round">
<path d="M309.4 626.0C308.9 624.5 307.2 619.7 306.4 617.0C305.6 614.3 304.5 612.6 304.8 610.0C305.1 607.4 306.4 603.5 308.3 601.5C310.2 599.5 314.7 598.6 316.0 598.0" stroke="#00C4FF" stroke-width="5.6" filter="url(#b1)"/>
<path d="M309.4 626.0C308.9 624.5 307.2 619.7 306.4 617.0C305.6 614.3 304.5 612.6 304.8 610.0C305.1 607.4 306.4 603.5 308.3 601.5C310.2 599.5 314.7 598.6 316.0 598.0" stroke="#14E428" stroke-width="3.5" filter="url(#b1)"/>
</g>
</g>
<rect x="544.6" y="421" width="113.4" height="114.1" rx="5.5" fill="#AD95C7"/>
<clipPath id="c7"><rect x="549.4" y="425.8" width="103.8" height="104.5"/></clipPath>
<rect x="549.4" y="425.8" width="103.8" height="104.5" fill="#370051"/>
<g clip-path="url(#c7)">
<ellipse cx="602" cy="478" rx="46" ry="48" fill="#62097C" opacity="0.4" filter="url(#b7)"/>
<g fill="none" stroke-linejoin="round" stroke-linecap="round">
<path d="M581.5 451.4C585.0 449.0 590.8 448.1 595.7 447.3C600.6 446.5 606.7 446.3 610.9 446.8C615.1 447.3 618.5 448.3 621.0 450.4C623.5 452.5 624.8 456.3 626.1 459.5C627.4 462.7 628.0 466.2 628.6 469.6C629.2 473.0 629.6 476.6 629.6 479.8C629.6 483.0 629.2 486.0 628.6 488.9C628.0 491.8 627.4 494.5 626.1 497.0C624.8 499.5 623.5 502.3 621.0 504.1C618.5 505.9 614.3 506.9 610.9 507.7C607.5 508.5 603.9 508.6 600.7 508.7C597.5 508.8 594.3 509.1 591.6 508.2C588.9 507.3 586.5 505.3 584.5 503.1C582.5 500.9 580.8 498.1 579.4 495.0C578.0 491.9 577.2 488.5 576.4 484.8C575.6 481.1 574.7 476.6 574.4 472.7C574.1 468.8 573.2 465.1 574.4 461.5C575.6 457.9 578.0 453.8 581.5 451.4Z" stroke="#E3129B" stroke-width="20.2" filter="url(#b3)" opacity="0.4"/>
<path d="M581.5 451.4C585.0 449.0 590.8 448.1 595.7 447.3C600.6 446.5 606.7 446.3 610.9 446.8C615.1 447.3 618.5 448.3 621.0 450.4C623.5 452.5 624.8 456.3 626.1 459.5C627.4 462.7 628.0 466.2 628.6 469.6C629.2 473.0 629.6 476.6 629.6 479.8C629.6 483.0 629.2 486.0 628.6 488.9C628.0 491.8 627.4 494.5 626.1 497.0C624.8 499.5 623.5 502.3 621.0 504.1C618.5 505.9 614.3 506.9 610.9 507.7C607.5 508.5 603.9 508.6 600.7 508.7C597.5 508.8 594.3 509.1 591.6 508.2C588.9 507.3 586.5 505.3 584.5 503.1C582.5 500.9 580.8 498.1 579.4 495.0C578.0 491.9 577.2 488.5 576.4 484.8C575.6 481.1 574.7 476.6 574.4 472.7C574.1 468.8 573.2 465.1 574.4 461.5C575.6 457.9 578.0 453.8 581.5 451.4Z" stroke="#E3129B" stroke-width="14.7" filter="url(#b15)" opacity="0.9"/>
<path d="M581.5 451.4C585.0 449.0 590.8 448.1 595.7 447.3C600.6 446.5 606.7 446.3 610.9 446.8C615.1 447.3 618.5 448.3 621.0 450.4C623.5 452.5 624.8 456.3 626.1 459.5C627.4 462.7 628.0 466.2 628.6 469.6C629.2 473.0 629.6 476.6 629.6 479.8C629.6 483.0 629.2 486.0 628.6 488.9C628.0 491.8 627.4 494.5 626.1 497.0C624.8 499.5 623.5 502.3 621.0 504.1C618.5 505.9 614.3 506.9 610.9 507.7C607.5 508.5 603.9 508.6 600.7 508.7C597.5 508.8 594.3 509.1 591.6 508.2C588.9 507.3 586.5 505.3 584.5 503.1C582.5 500.9 580.8 498.1 579.4 495.0C578.0 491.9 577.2 488.5 576.4 484.8C575.6 481.1 574.7 476.6 574.4 472.7C574.1 468.8 573.2 465.1 574.4 461.5C575.6 457.9 578.0 453.8 581.5 451.4Z" stroke="#1C1CFF" stroke-width="9.2" filter="url(#b1)"/>
</g>
<g fill="none" stroke-linejoin="round" stroke-linecap="round">
<path d="M581.5 451.4C585.0 449.0 590.8 448.1 595.7 447.3C600.6 446.5 606.7 446.3 610.9 446.8C615.1 447.3 618.5 448.3 621.0 450.4C623.5 452.5 624.8 456.3 626.1 459.5C627.4 462.7 628.0 466.2 628.6 469.6C629.2 473.0 629.6 476.6 629.6 479.8C629.6 483.0 629.2 486.0 628.6 488.9C628.0 491.8 627.4 494.5 626.1 497.0C624.8 499.5 623.5 502.3 621.0 504.1C618.5 505.9 614.3 506.9 610.9 507.7C607.5 508.5 603.9 508.6 600.7 508.7C597.5 508.8 594.3 509.1 591.6 508.2C588.9 507.3 586.5 505.3 584.5 503.1C582.5 500.9 580.8 498.1 579.4 495.0C578.0 491.9 577.2 488.5 576.4 484.8C575.6 481.1 574.7 476.6 574.4 472.7C574.1 468.8 573.2 465.1 574.4 461.5C575.6 457.9 578.0 453.8 581.5 451.4Z" stroke="#00C4FF" stroke-width="5.8" filter="url(#b1)"/>
</g>
<g fill="none" stroke-linejoin="round" stroke-linecap="round">
<path d="M577.0 457.0C577.8 456.1 579.0 452.9 581.5 451.4C584.0 449.9 588.2 448.8 592.0 448.0C595.8 447.2 600.2 446.6 604.0 446.6C607.8 446.6 612.1 447.3 615.0 448.0C617.9 448.7 620.3 450.5 621.4 451.0" stroke="#14E428" stroke-width="3.4" filter="url(#b1)"/>
</g>
<g fill="none" stroke-linejoin="round" stroke-linecap="round">
<path d="M628.0 466.0C628.3 468.0 629.5 474.0 629.6 478.0C629.7 482.0 629.3 486.2 628.4 490.0C627.5 493.8 625.9 498.0 624.0 500.6C622.1 503.2 618.2 504.9 617.0 505.8" stroke="#14E428" stroke-width="3.4" filter="url(#b1)"/>
</g>
<g fill="none" stroke-linejoin="round" stroke-linecap="round">
<path d="M605.0 508.4C603.3 508.4 597.8 509.0 595.0 508.6C592.2 508.2 590.2 507.7 588.0 506.2C585.8 504.7 583.0 500.7 582.0 499.6" stroke="#14E428" stroke-width="3.4" filter="url(#b1)"/>
</g>
<g transform="translate(582.4 451.2) rotate(-25)"><ellipse rx="4.6" ry="2.6" fill="#E6F000" filter="url(#b1)"/></g>
<g transform="translate(613.6 447.6) rotate(14)"><ellipse rx="7.4" ry="2.8" fill="#E6F000" filter="url(#b1)"/><ellipse rx="4.4" ry="1.7" fill="#FF7A00" filter="url(#b1)"/></g>
<g transform="translate(620.6 504) rotate(-35)"><ellipse rx="4.6" ry="2.8" fill="#E6F000" filter="url(#b1)"/></g>
<g transform="translate(591.4 507.6) rotate(12)"><ellipse rx="7.2" ry="3.0" fill="#E6F000" filter="url(#b1)"/></g>
</g>
<rect x="769.9" y="451.4" width="114.9" height="114.7" rx="5.5" fill="#F7B21A"/>
<clipPath id="c8"><rect x="774.7" y="456.2" width="105.3" height="105.1"/></clipPath>
<rect x="774.7" y="456.2" width="105.3" height="105.1" fill="#43005A"/>
<g clip-path="url(#c8)">
<g fill="none" stroke-linejoin="round" stroke-linecap="round">
<path d="M845.2 509.6C845.2 512.2 845.2 514.9 844.5 517.4C843.8 519.9 842.6 522.8 840.8 524.6C839.1 526.5 836.4 527.7 834.0 528.5C831.6 529.3 829.1 529.2 826.6 529.2C824.1 529.2 821.6 529.3 819.2 528.5C816.8 527.7 814.1 526.5 812.4 524.6C810.6 522.8 809.4 519.9 808.7 517.4C808.0 514.9 808.0 512.2 808.0 509.6C808.0 507.0 808.0 504.3 808.7 501.8C809.4 499.3 810.6 496.4 812.4 494.6C814.1 492.7 816.8 491.5 819.2 490.7C821.6 489.9 824.1 490.0 826.6 490.0C829.1 490.0 831.6 489.9 834.0 490.7C836.4 491.5 839.1 492.7 840.8 494.6C842.6 496.4 843.8 499.3 844.5 501.8C845.2 504.3 845.2 507.0 845.2 509.6Z" stroke="#E3129B" stroke-width="27" filter="url(#b3)" opacity="0.42"/>
<path d="M845.2 509.6C845.2 512.2 845.2 514.9 844.5 517.4C843.8 519.9 842.6 522.8 840.8 524.6C839.1 526.5 836.4 527.7 834.0 528.5C831.6 529.3 829.1 529.2 826.6 529.2C824.1 529.2 821.6 529.3 819.2 528.5C816.8 527.7 814.1 526.5 812.4 524.6C810.6 522.8 809.4 519.9 808.7 517.4C808.0 514.9 808.0 512.2 808.0 509.6C808.0 507.0 808.0 504.3 808.7 501.8C809.4 499.3 810.6 496.4 812.4 494.6C814.1 492.7 816.8 491.5 819.2 490.7C821.6 489.9 824.1 490.0 826.6 490.0C829.1 490.0 831.6 489.9 834.0 490.7C836.4 491.5 839.1 492.7 840.8 494.6C842.6 496.4 843.8 499.3 844.5 501.8C845.2 504.3 845.2 507.0 845.2 509.6Z" stroke="#E3129B" stroke-width="18.6" filter="url(#b15)"/>
<path d="M845.2 509.6C845.2 512.2 845.2 514.9 844.5 517.4C843.8 519.9 842.6 522.8 840.8 524.6C839.1 526.5 836.4 527.7 834.0 528.5C831.6 529.3 829.1 529.2 826.6 529.2C824.1 529.2 821.6 529.3 819.2 528.5C816.8 527.7 814.1 526.5 812.4 524.6C810.6 522.8 809.4 519.9 808.7 517.4C808.0 514.9 808.0 512.2 808.0 509.6C808.0 507.0 808.0 504.3 808.7 501.8C809.4 499.3 810.6 496.4 812.4 494.6C814.1 492.7 816.8 491.5 819.2 490.7C821.6 489.9 824.1 490.0 826.6 490.0C829.1 490.0 831.6 489.9 834.0 490.7C836.4 491.5 839.1 492.7 840.8 494.6C842.6 496.4 843.8 499.3 844.5 501.8C845.2 504.3 845.2 507.0 845.2 509.6Z" stroke="#1C1CFF" stroke-width="13.4" filter="url(#b1)"/>
<path d="M845.2 509.6C845.2 512.2 845.2 514.9 844.5 517.4C843.8 519.9 842.6 522.8 840.8 524.6C839.1 526.5 836.4 527.7 834.0 528.5C831.6 529.3 829.1 529.2 826.6 529.2C824.1 529.2 821.6 529.3 819.2 528.5C816.8 527.7 814.1 526.5 812.4 524.6C810.6 522.8 809.4 519.9 808.7 517.4C808.0 514.9 808.0 512.2 808.0 509.6C808.0 507.0 808.0 504.3 808.7 501.8C809.4 499.3 810.6 496.4 812.4 494.6C814.1 492.7 816.8 491.5 819.2 490.7C821.6 489.9 824.1 490.0 826.6 490.0C829.1 490.0 831.6 489.9 834.0 490.7C836.4 491.5 839.1 492.7 840.8 494.6C842.6 496.4 843.8 499.3 844.5 501.8C845.2 504.3 845.2 507.0 845.2 509.6Z" stroke="#00C4FF" stroke-width="10.2" filter="url(#b1)"/>
<path d="M845.2 509.6C845.2 512.2 845.2 514.9 844.5 517.4C843.8 519.9 842.6 522.8 840.8 524.6C839.1 526.5 836.4 527.7 834.0 528.5C831.6 529.3 829.1 529.2 826.6 529.2C824.1 529.2 821.6 529.3 819.2 528.5C816.8 527.7 814.1 526.5 812.4 524.6C810.6 522.8 809.4 519.9 808.7 517.4C808.0 514.9 808.0 512.2 808.0 509.6C808.0 507.0 808.0 504.3 808.7 501.8C809.4 499.3 810.6 496.4 812.4 494.6C814.1 492.7 816.8 491.5 819.2 490.7C821.6 489.9 824.1 490.0 826.6 490.0C829.1 490.0 831.6 489.9 834.0 490.7C836.4 491.5 839.1 492.7 840.8 494.6C842.6 496.4 843.8 499.3 844.5 501.8C845.2 504.3 845.2 507.0 845.2 509.6Z" stroke="#14E428" stroke-width="7.4" filter="url(#b1)"/>
</g>
<g fill="none" stroke-linejoin="round" stroke-linecap="round">
<path d="M818.0 491.6C819.3 491.4 823.3 490.4 826.0 490.2C828.7 490.0 831.5 490.0 834.0 490.6C836.5 491.2 839.8 493.4 841.0 494.0" stroke="#E6F000" stroke-width="3.8" filter="url(#b1)"/>
</g>
<g fill="none" stroke-linejoin="round" stroke-linecap="round">
<path d="M816.4 527.0C817.7 527.3 821.4 528.7 824.0 529.0C826.6 529.3 830.7 528.7 832.0 528.6" stroke="#E6F000" stroke-width="3.8" filter="url(#b1)"/>
</g>
</g>
<clipPath id="c9"><rect x="115.6" y="897.5" width="147.2" height="144.0"/></clipPath>
<rect x="115.6" y="897.5" width="147.2" height="144.0" fill="#370051"/>
<g clip-path="url(#c9)">
<ellipse cx="191.5" cy="967.5" rx="62" ry="60" fill="#62097C" opacity="0.35" filter="url(#b7)"/>
<g fill="none" stroke-linejoin="round" stroke-linecap="round">
<path d="M190.9 926.9C184.1 926.8 176.6 927.6 171.0 929.9C165.4 932.2 160.9 936.6 157.4 940.6C153.9 944.6 151.6 949.3 150.0 954.0C148.4 958.7 147.7 964.2 147.8 968.9C147.9 973.6 149.3 978.0 150.6 982.0C151.9 986.0 152.8 988.9 155.8 992.6C158.8 996.3 163.2 1001.5 168.6 1004.0C174.0 1006.5 181.5 1007.2 188.5 1007.6C195.5 1008.0 204.3 1008.7 210.8 1006.2C217.3 1003.7 223.8 996.8 227.6 992.4C231.4 988.0 232.1 984.7 233.4 980.0C234.7 975.3 235.4 969.0 235.2 964.2C235.0 959.4 233.5 954.7 232.0 951.0C230.5 947.3 229.7 945.5 226.4 942.0C223.1 938.5 217.9 932.7 212.0 930.2C206.1 927.7 197.7 927.0 190.9 926.9Z" stroke="#E3129B" stroke-width="17" filter="url(#b3)" opacity="0.5"/>
<path d="M190.9 926.9C184.1 926.8 176.6 927.6 171.0 929.9C165.4 932.2 160.9 936.6 157.4 940.6C153.9 944.6 151.6 949.3 150.0 954.0C148.4 958.7 147.7 964.2 147.8 968.9C147.9 973.6 149.3 978.0 150.6 982.0C151.9 986.0 152.8 988.9 155.8 992.6C158.8 996.3 163.2 1001.5 168.6 1004.0C174.0 1006.5 181.5 1007.2 188.5 1007.6C195.5 1008.0 204.3 1008.7 210.8 1006.2C217.3 1003.7 223.8 996.8 227.6 992.4C231.4 988.0 232.1 984.7 233.4 980.0C234.7 975.3 235.4 969.0 235.2 964.2C235.0 959.4 233.5 954.7 232.0 951.0C230.5 947.3 229.7 945.5 226.4 942.0C223.1 938.5 217.9 932.7 212.0 930.2C206.1 927.7 197.7 927.0 190.9 926.9Z" stroke="#F0148C" stroke-width="6.2" filter="url(#b15)"/>
</g>
<g fill="none" stroke-linejoin="round" stroke-linecap="round">
<path d="M161.6 936.0C163.0 935.1 165.9 932.0 170.0 930.4C174.1 928.8 183.3 927.1 186.0 926.4" stroke="#E3129B" stroke-width="16.8" filter="url(#b15)"/>
<path d="M161.6 936.0C163.0 935.1 165.9 932.0 170.0 930.4C174.1 928.8 183.3 927.1 186.0 926.4" stroke="#1C1CFF" stroke-width="11.8" filter="url(#b1)"/>
</g>
<g fill="none" stroke-linejoin="round" stroke-linecap="round">
<path d="M163.8 934.5C164.8 933.9 167.0 931.6 170.0 930.4C173.0 929.2 179.9 927.9 181.8 927.4" stroke="#00C4FF" stroke-width="5.4" filter="url(#b1)"/>
</g>
<g fill="none" stroke-linejoin="round" stroke-linecap="round">
<path d="M201.6 927.0C203.5 927.6 209.5 928.8 213.0 930.4C216.5 932.0 220.8 935.6 222.4 936.6" stroke="#E3129B" stroke-width="16.8" filter="url(#b15)"/>
<path d="M201.6 927.0C203.5 927.6 209.5 928.8 213.0 930.4C216.5 932.0 220.8 935.6 222.4 936.6" stroke="#1C1CFF" stroke-width="11.8" filter="url(#b1)"/>
</g>
<g fill="none" stroke-linejoin="round" stroke-linecap="round">
<path d="M204.6 927.9C206.0 928.3 210.4 929.2 213.0 930.4C215.6 931.6 218.8 934.2 220.0 935.0" stroke="#00C4FF" stroke-width="5.4" filter="url(#b1)"/>
</g>
<g fill="none" stroke-linejoin="round" stroke-linecap="round">
<path d="M161.4 998.0C162.7 998.9 165.9 1002.1 169.0 1003.6C172.1 1005.1 178.2 1006.4 180.0 1007.0" stroke="#E3129B" stroke-width="16.8" filter="url(#b15)"/>
<path d="M161.4 998.0C162.7 998.9 165.9 1002.1 169.0 1003.6C172.1 1005.1 178.2 1006.4 180.0 1007.0" stroke="#1C1CFF" stroke-width="11.8" filter="url(#b1)"/>
</g>
<g fill="none" stroke-linejoin="round" stroke-linecap="round">
<path d="M163.4 999.5C164.3 1000.1 166.7 1002.5 169.0 1003.6C171.3 1004.7 175.8 1005.7 177.1 1006.1" stroke="#00C4FF" stroke-width="5.4" filter="url(#b1)"/>
</g>
<g fill="none" stroke-linejoin="round" stroke-linecap="round">
<path d="M197.0 1010.0C199.3 1009.4 206.8 1008.2 211.0 1006.4C215.2 1004.6 220.2 1000.6 222.0 999.4" stroke="#E3129B" stroke-width="16.8" filter="url(#b15)"/>
<path d="M197.0 1010.0C199.3 1009.4 206.8 1008.2 211.0 1006.4C215.2 1004.6 220.2 1000.6 222.0 999.4" stroke="#1C1CFF" stroke-width="11.8" filter="url(#b1)"/>
</g>
<g fill="none" stroke-linejoin="round" stroke-linecap="round">
<path d="M200.6 1009.1C202.4 1008.6 207.9 1007.7 211.0 1006.4C214.1 1005.1 217.8 1002.1 219.1 1001.2" stroke="#00C4FF" stroke-width="5.4" filter="url(#b1)"/>
</g>
<g fill="none" stroke-linejoin="round" stroke-linecap="round">
<path d="M149.4 956.6C149.0 958.6 147.2 964.9 147.2 968.9C147.2 972.9 149.2 978.5 149.6 980.4" stroke="#E3129B" stroke-width="15.3" filter="url(#b15)"/>
<path d="M149.4 956.6C149.0 958.6 147.2 964.9 147.2 968.9C147.2 972.9 149.2 978.5 149.6 980.4" stroke="#1C1CFF" stroke-width="10.8" filter="url(#b1)"/>
</g>
<g fill="none" stroke-linejoin="round" stroke-linecap="round">
<path d="M148.8 959.8C148.6 961.3 147.2 966.0 147.2 968.9C147.2 971.8 148.7 976.0 149.0 977.4" stroke="#00C4FF" stroke-width="5.0" filter="url(#b1)"/>
</g>
<g fill="none" stroke-linejoin="round" stroke-linecap="round">
<path d="M148.0 964.3C147.9 965.1 147.2 967.4 147.2 968.9C147.2 970.4 147.9 972.4 148.1 973.2" stroke="#14E428" stroke-width="3.0" filter="url(#b1)"/>
</g>
<g fill="none" stroke-linejoin="round" stroke-linecap="round">
<path d="M234.0 955.0C234.3 956.5 236.0 960.4 236.0 964.2C236.0 968.0 234.3 975.4 234.0 977.6" stroke="#E3129B" stroke-width="15.3" filter="url(#b15)"/>
<path d="M234.0 955.0C234.3 956.5 236.0 960.4 236.0 964.2C236.0 968.0 234.3 975.4 234.0 977.6" stroke="#1C1CFF" stroke-width="10.8" filter="url(#b1)"/>
</g>
<g fill="none" stroke-linejoin="round" stroke-linecap="round">
<path d="M234.5 957.4C234.8 958.5 236.0 961.4 236.0 964.2C236.0 967.0 234.8 972.5 234.5 974.1" stroke="#00C4FF" stroke-width="5.0" filter="url(#b1)"/>
</g>
<g fill="none" stroke-linejoin="round" stroke-linecap="round">
<path d="M235.3 960.8C235.4 961.4 236.0 962.8 236.0 964.2C236.0 965.6 235.4 968.3 235.3 969.2" stroke="#14E428" stroke-width="3.0" filter="url(#b1)"/>
</g>
</g>
<clipPath id="c10"><rect x="291.5" y="897.1" width="146.3" height="145.7"/></clipPath>
<rect x="291.5" y="897.1" width="146.3" height="145.7" fill="#370051"/>
<g clip-path="url(#c10)">
<ellipse cx="365.6" cy="967.3" rx="62" ry="60" fill="#62097C" opacity="0.35" filter="url(#b7)"/>
<g fill="none" stroke-linejoin="round" stroke-linecap="round">
<path d="M330.0 936.0C333.2 932.7 339.5 931.7 345.0 930.0C350.5 928.3 357.2 926.3 363.0 925.6C368.8 924.9 375.8 924.5 380.0 925.6C384.2 926.7 385.3 928.6 388.0 932.0C390.7 935.4 393.3 941.7 396.0 946.0C398.7 950.3 402.3 954.3 404.0 958.0C405.7 961.7 406.3 964.3 406.0 968.0C405.7 971.7 403.7 976.0 402.0 980.0C400.3 984.0 398.0 988.2 396.0 992.0C394.0 995.8 392.3 1000.3 390.0 1003.0C387.7 1005.7 385.7 1007.3 382.0 1008.0C378.3 1008.7 373.0 1007.7 368.0 1007.0C363.0 1006.3 357.3 1004.8 352.0 1004.0C346.7 1003.2 340.2 1003.3 336.0 1002.0C331.8 1000.7 328.7 999.0 327.0 996.0C325.3 993.0 325.9 988.7 325.6 984.0C325.3 979.3 325.4 973.7 325.4 968.0C325.4 962.3 324.8 955.3 325.6 950.0C326.4 944.7 326.8 939.3 330.0 936.0Z" stroke="#E3129B" stroke-width="26.5" filter="url(#b3)" opacity="0.4"/>
<path d="M330.0 936.0C333.2 932.7 339.5 931.7 345.0 930.0C350.5 928.3 357.2 926.3 363.0 925.6C368.8 924.9 375.8 924.5 380.0 925.6C384.2 926.7 385.3 928.6 388.0 932.0C390.7 935.4 393.3 941.7 396.0 946.0C398.7 950.3 402.3 954.3 404.0 958.0C405.7 961.7 406.3 964.3 406.0 968.0C405.7 971.7 403.7 976.0 402.0 980.0C400.3 984.0 398.0 988.2 396.0 992.0C394.0 995.8 392.3 1000.3 390.0 1003.0C387.7 1005.7 385.7 1007.3 382.0 1008.0C378.3 1008.7 373.0 1007.7 368.0 1007.0C363.0 1006.3 357.3 1004.8 352.0 1004.0C346.7 1003.2 340.2 1003.3 336.0 1002.0C331.8 1000.7 328.7 999.0 327.0 996.0C325.3 993.0 325.9 988.7 325.6 984.0C325.3 979.3 325.4 973.7 325.4 968.0C325.4 962.3 324.8 955.3 325.6 950.0C326.4 944.7 326.8 939.3 330.0 936.0Z" stroke="#E3129B" stroke-width="18.3" filter="url(#b15)" opacity="0.9"/>
<path d="M330.0 936.0C333.2 932.7 339.5 931.7 345.0 930.0C350.5 928.3 357.2 926.3 363.0 925.6C368.8 924.9 375.8 924.5 380.0 925.6C384.2 926.7 385.3 928.6 388.0 932.0C390.7 935.4 393.3 941.7 396.0 946.0C398.7 950.3 402.3 954.3 404.0 958.0C405.7 961.7 406.3 964.3 406.0 968.0C405.7 971.7 403.7 976.0 402.0 980.0C400.3 984.0 398.0 988.2 396.0 992.0C394.0 995.8 392.3 1000.3 390.0 1003.0C387.7 1005.7 385.7 1007.3 382.0 1008.0C378.3 1008.7 373.0 1007.7 368.0 1007.0C363.0 1006.3 357.3 1004.8 352.0 1004.0C346.7 1003.2 340.2 1003.3 336.0 1002.0C331.8 1000.7 328.7 999.0 327.0 996.0C325.3 993.0 325.9 988.7 325.6 984.0C325.3 979.3 325.4 973.7 325.4 968.0C325.4 962.3 324.8 955.3 325.6 950.0C326.4 944.7 326.8 939.3 330.0 936.0Z" stroke="#1C1CFF" stroke-width="12.6" filter="url(#b1)"/>
</g>
<g fill="none" stroke-linejoin="round" stroke-linecap="round">
<path d="M330.0 936.0C333.2 932.7 339.5 931.7 345.0 930.0C350.5 928.3 357.2 926.3 363.0 925.6C368.8 924.9 375.8 924.5 380.0 925.6C384.2 926.7 385.3 928.6 388.0 932.0C390.7 935.4 393.3 941.7 396.0 946.0C398.7 950.3 402.3 954.3 404.0 958.0C405.7 961.7 406.3 964.3 406.0 968.0C405.7 971.7 403.7 976.0 402.0 980.0C400.3 984.0 398.0 988.2 396.0 992.0C394.0 995.8 392.3 1000.3 390.0 1003.0C387.7 1005.7 385.7 1007.3 382.0 1008.0C378.3 1008.7 373.0 1007.7 368.0 1007.0C363.0 1006.3 357.3 1004.8 352.0 1004.0C346.7 1003.2 340.2 1003.3 336.0 1002.0C331.8 1000.7 328.7 999.0 327.0 996.0C325.3 993.0 325.9 988.7 325.6 984.0C325.3 979.3 325.4 973.7 325.4 968.0C325.4 962.3 324.8 955.3 325.6 950.0C326.4 944.7 326.8 939.3 330.0 936.0Z" stroke="#00C4FF" stroke-width="6.2" filter="url(#b15)"/>
</g>
<g fill="none" stroke-linejoin="round" stroke-linecap="round">
<path d="M347.0 929.6C349.8 929.0 358.3 926.3 363.6 925.8C368.9 925.3 376.4 926.3 379.0 926.4" stroke="#14E428" stroke-width="5.4" filter="url(#b1)"/>
</g>
<g fill="none" stroke-linejoin="round" stroke-linecap="round">
<path d="M326.2 960.0C326.4 957.8 326.7 950.5 327.6 947.0C328.5 943.5 330.9 940.3 331.6 939.0" stroke="#14E428" stroke-width="5.4" filter="url(#b1)"/>
</g>
<g fill="none" stroke-linejoin="round" stroke-linecap="round">
<path d="M401.0 953.0C401.6 955.0 404.1 961.0 404.4 965.0C404.7 969.0 402.9 975.0 402.6 977.0" stroke="#14E428" stroke-width="5.4" filter="url(#b1)"/>
</g>
<g fill="none" stroke-linejoin="round" stroke-linecap="round">
<path d="M326.6 992.0C327.3 993.2 330.3 997.8 331.0 999.0" stroke="#14E428" stroke-width="5" filter="url(#b1)"/>
</g>
<g fill="none" stroke-linejoin="round" stroke-linecap="round">
<path d="M346.0 1003.4C347.7 1003.8 354.3 1005.2 356.0 1005.6" stroke="#14E428" stroke-width="4" filter="url(#b1)"/>
</g>
<g fill="none" stroke-linejoin="round" stroke-linecap="round">
<path d="M375.0 1008.0C376.7 1007.4 382.5 1005.9 385.0 1004.4C387.5 1002.9 389.2 999.9 390.0 999.0" stroke="#14E428" stroke-width="5" filter="url(#b1)"/>
</g>
</g>
<clipPath id="c11"><rect x="466.1" y="779.0" width="264.3" height="262.5"/></clipPath>
<clipPath id="cin"><path d="M531.2 872.4C531.9 866.5 530.3 860.2 533.2 856.8C536.1 853.4 543.3 852.8 548.8 852.0C554.3 851.2 560.1 853.3 566.3 852.0C572.5 850.7 578.7 846.6 585.9 844.1C593.1 841.6 602.1 837.9 609.3 837.3C616.4 836.6 623.4 837.6 628.8 840.2C634.2 842.8 638.6 847.9 641.5 852.9C644.4 857.9 644.2 863.7 646.3 870.5C648.4 877.3 652.0 887.1 654.1 893.9C656.2 900.7 657.4 905.3 659.0 911.5C660.6 917.7 663.2 924.8 663.9 931.0C664.5 937.2 664.2 943.0 662.9 948.5C661.6 954.0 660.5 961.5 656.1 964.1C651.7 966.7 643.1 962.8 636.6 964.1C630.1 965.4 623.6 969.4 617.1 972.0C610.6 974.6 604.1 978.2 597.6 979.8C591.1 981.4 583.9 981.7 578.0 981.7C572.1 981.7 566.8 982.4 562.4 979.8C558.0 977.2 554.5 971.6 551.7 966.1C549.0 960.6 547.7 952.8 545.9 946.6C544.1 940.4 542.8 935.2 541.0 929.0C539.2 922.8 537.1 915.7 535.1 909.5C533.1 903.3 529.9 898.2 529.3 892.0C528.6 885.8 530.6 878.3 531.2 872.4Z"/></clipPath>
<g clip-path="url(#c11)">
<rect x="466.1" y="779.0" width="264.3" height="262.5" fill="#2B2BA0"/>
<g filter="url(#b1)" fill-rule="evenodd">
<path d="M468.2 772.3l0.7-0.3 7.3 0-8.8 3.9-8.3 4.2 0-3.2zM504.2 772.3l1.6-0.3 53.7 0 6.5 1.7 7.1 2.3 6.4 2.7 6.6 3.3 7.4 4.7 7.1 5.6 6.2 6.4 5 6.6 3.6 6.4 2.7 6.3 2 6.8 2.1 11.2 0.8 2 1.1 1.3-4.7-0.6-2.9-13.4-3.2-9-2.4-4.6-2.9-4.7-3.3-4.3-3.9-4.4-7.7-6.8-9-6-10-4.9-10.7-3.7-12-2.7-12.6-1.4-13.4 0-13.3 1.4-13.3 2.7-13.4 4-13.3 5.3-13 6.5 0-3.3 12-6.1 7.9-3.3 8.2-3 8.8-2.7zM591.4 772l8.2 0 6.9 4.7 5.8 4.6 5.1 5.1 4.7 5.5 4 5.9 3 5.6 2.3 5.7 1.7 5.7 1 5.5 0.4 5.4-0.1 5.2-2.1 12.8 4.8 4.9 2.1-0.9 2.1-3 2-5 1.7-6.4 0.8-6 0.2-5.3-0.4-6-1-5.7-1.3-5-2-5.3-2.4-5-3-5-3.3-4.7-4.1-5-8.8-8.3 6.5 0 7.6 7.7 6.3 8.5 4.3 7.7 3 7.4 2 7.8 1 8.2-0.3 8.2-1.7 8.6-3 8-1.6 3-2 2.7-1.7 1.5-3-2.6-2 0.4-7 2-6 2.7-4.7 3-4.6 3.8-4 4.4-3.2 4.7-3.7 7.6-2.6 8.7-1.6 10.3-0.9 13-0.3-0.3 0.2-1-0.7-13 0.4-10.8 2-9.9 3.4-8.2 2.3-3.9 3-4 3.3-3.5 3.6-3 3.9-2.7 4.4-2.3 4.9-2 4.5-1.4-3-3.3 1.3-3 0.8-5.3-0.1-6.4-0.8-6-2.5-9-4.1-8.6-2.7-4.4-3.4-4.6-7.1-7.6-8.7-7zM643.5 772l5.9 0 5.7 7.4 4.7 7.6 3.6 7.8 2.7 8 1.6 7.9 0.5 7.3-0.3 7-1.1 7-2 6.7-3 6.9-4.3 7.1-4.9 6-4.2 3.7-2 1-1.6 0.3-1.1-2.7 1.4-0.3 1.7-1 4.2-4.7 4.7-7 3.6-7.3 1.9-5.7 1.3-5.3 0.7-5.7 0.2-5.3-0.4-6.4-1-6-1.6-6-2.2-5.6-2.6-5.7-3.6-6-4-5.7zM665.4 772l5.5 0 6.5 10.4 5 10.9 2.7 8.6 1.7 9.3 0.4 8.8-0.8 8.9-1.6 7.5-2.7 7.4-3.7 7.2-4.3 6.4-6.1 6.9-7.5 6.7-6.8 4.7-2.3 1-2 0.2-1-0.4-0.3-1.4 2-0.9 2.7-1.8 8.6-7.3 5.8-6.1 5-6.7 3.4-6 2.7-6 2-6.3 1.2-6.3 0.6-7-0.1-7-1-7.4-1.7-7-2.4-7-3-6.6-3.9-7zM686.1 772l5.2 0 0.5 0.7 3.6 6.3 3.4 6.8 2.6 6.6 2.4 7.4 2 9.9 0.7 10.3-0.5 9.7-1.9 9.6-3 8.6-4 7.9-5 7.2-6 6.7-7.7 6.6-9 6-10.9 5.7-3.1 1.1-2.3 0.2-0.5-0.3 0.2-0.3 2-2 12-7.2 7.6-5.4 5.3-4.4 4.6-4.7 5.1-6.3 3.9-6.4 3.2-6.6 2.4-7 1.8-8 0.7-8.4-0.2-8.3-1.2-8.7-2.1-8.3-2.9-8.3-4-8.4zM705.7 772l5 0 2.7 4.8 3.7 7.7 3 7.6 2.3 7.5 1.7 7.4 1.4 11.7-0.1 11.6-1.6 11.2-3 10-4 8.7-5 7.9-6 7.2-7 6.4-7.4 5.3-7.5 4.3-9.5 4.4-15 5.4-1.6 1-1 1.1-0.8-2.2 0.1-1 1.7-1.3 15.3-6.5 8.3-4.1 8.4-5.2 7.6-6.2 6-6 4.9-6.4 4.2-7 3.4-7.6 2.7-8.7 1.7-9.7 0.4-9.6-0.7-10-2-10.4-3-10-4.1-9.6zM724.4 772l4.7 0 4.3 8.5 3.4 8 0.3 0.9 0 15.8-2.2-8.5-3-8.7-3.4-8zM522.2 782.7l8.6-0.2 8 0.4 8.5 1.1 6.6 1.3 7.1 2 6.4 2.4 6.5 3 5.9 3.3 5.4 3.7 5.2 4.3 4.4 4.4 4.3 5.2 3.7 5.5 3 5.5 3 7 1.7 5.7-1.4-0.2-1.7-1.8-6.5-12.3-5.3-7.7-5.2-5.8-6-5.4-7.6-5.3-8.7-4.6-8.7-3.4-10-2.6-10.6-1.7-11-0.5-11.4 0.5-11.6 1.7-11 2.6-12 4-11.7 5-11 5.8 0-3.4 12.6-6.5 12.2-5 9.3-3 9.3-2.4 9.5-1.6zM518.8 796l12.1 0 11.4 1.3 9.8 2.4 10 3.6 8.9 4.7 8.4 6 7.4 7 6.3 8.1 4.1 7.2 0.7 2.4-0.4 1.6 1.3 0.3 0.3-0.3 1 0-3.2 3.4-2.9 3.6-2.8 4.4-1.9 4-1.7 4.6-1 4.4-0.6 4.6-0.1 5 0.7 7 1.6 7.4 2.4 7 4.8 11.2 0 0.7-7-11.9-4.3-9.7-2.4-8.7-0.6-4.3-0.2-4.7 0.4-5.6 1.1-5.4 1.7-4.9 2.3-4.9 2.7-4.2 7-2 0.2-0.6-1.3-2.7-3.5-5.3-6.6-8.4-6.8-6.5-7.7-5.6-5.6-3.3-5.7-2.7-6.3-2.4-6.7-1.9-7-1.4-7.3-0.9-7-0.3-7 0.2-7.4 0.7-7.6 1.2-7.4 1.7-7 2.1-7.3 2.6-7.7 3.3-7 3.5-7.3 4.2 0-3.5 11.6-6.3 11.5-5 8.9-3 8.8-2.3 9-1.7zM514.7 809.3l11.1-0.1 10.8 1.1 11 2.7 9.3 3.7 9.5 5.3 8.6 6.7 4.1 3.9 3.7 4.2 2.3 3.3 1.9 3.6-2.6 1.1-1.5 0.2 0.1-1.7-1.1-2.3-6.1-6.9-8.4-7-9-5.6-7-3.2-7-2.5-8-1.9-7.6-1-8.4-0.4-8.3 0.4-9 1.3-8.7 2-9.3 2.9-8.3 3.4-8.7 4.4-9 5.3 0-3.5 10.4-6 10.7-5 9.1-3.4 8.3-2.3 8.4-1.7zM512.6 822.3l8.8-0.2 8.7 0.7 7.9 1.5 8.4 2.7 7.3 3.3 7.2 4.4 5.8 4.3 10.1 8.7-5.4 2-0.9-2-1.8-2.4-6.9-5.8-8.4-5.4-8.3-3.9-6-2-6-1.4-6.3-1-6.7-0.4-7 0.2-8 0.9-8 1.7-7.7 2.2-8 3.1-7.6 3.6-7.4 4.1-7.3 4.8 0-3.7 9.6-6 10.6-5.3 8.5-3.3 8.8-2.7 7.9-1.7zM514.8 834.7l6.6 0 6.4 0.6 5.6 1 5.7 1.7 6.5 2.7 5.5 3 3.3 2.3 3.7 3.6 1.7 1.2 2 0.9 4.1 0.3-1 7.7 0.3 7.6 1.7 7.7 2.8 6.7 3.8 6.3 5.2 6.3 5.9 5.7 10.2 8.5-10.3-6.2-8.1-6-6.2-6-4.8-6.4-3.6-7.1-2.4-8-0.7-8.5 0.8-8.3-5.3-0.3 0.1-1-0.4-1-2.5-2.2-6.6-3.7-6.4-2.7-8.6-2.3-9.7-1-10 0.4-10.7 1.9-10 3-10.3 4.5-10 5.5-10 7 0-3.7 11-7.4 10.7-5.7 8.1-3.3 8.6-2.7 7.9-1.7zM512.8 846.7l7.6-0.3 7.4 0.6 7 1.7 4.8 2.3 2.5 2.7 0 0.4-0.9 0.6-0.2 8.3 0.8 6.7 1.5 5.6 1.7 4.4 2.2 4.3 2.7 4 3.4 4 3.5 3.2 4 3 4.3 2.6 5 2.4 5.3 1.9 6 1.7 14.6 2.9-15.8-1-6.2-1-5.5-1.4-5.7-2-4.9-2.3-4.7-3-4.1-3.3-4.3-4.7-3.7-5.4-3-6.2-2-6.4-1.3-8.3 0-8.4 4-1 0.8-0.6-0.1-0.4-0.7-1-1.4-0.9-4.6-1.5-8.7-1.4-9 0-9.7 1.3-9.3 2.4-9.3 3.6-9.7 5-9.3 6.1-8.7 6.9 0-3.9 10.4-7.9 10.6-6.3 7.9-3.7 8.2-3 7.7-2zM737.1 847l0 15.9-0.7 1.4-3.6 7-4.7 6.9-5.3 6.3-5.9 5.5-5.2 4-5.6 3.7-6.2 3.3-6.8 3-13.4 4.3-15.6 3.5-4.3 1.6-0.4-0.4-1-3.9 4.4-0.4 9-1.9 9.3-2.6 7.7-2.8 6.6-2.9 6-3.3 5.7-3.6 5.7-4.4 4.5-4.2 4-4.3 3.6-4.7 3.3-5 2.8-5 2.5-5.7 2-5.6zM518.4 857.3l7.2 0 7.2 1 0.1 1.7-0.5 1.1-3.6-0.9-4.7-0.3-5.7 0.2-5.6 0.7-9.4 2.1-8.6 3-9.7 4.6-9.3 5.7-8.7 6.7-8 7.4 0-4.2 2.2-2.1 10.5-8.7 11-7 8.7-4.3 9.1-3.3 9.5-2.4zM531.2 865.7l0.6-0.3 0 1.8-1.7 0.9-14.7 2.7-7.6 2-9.7 3.7-8.7 4.4-8.6 5.6-7.7 6.1-7.1 6.7-6.9 7.7 0-4.5 6-6.5 5.3-5 5.7-4.7 6-4.3 5.4-3.3 9.9-5 10.2-3.7 8.4-2 12.8-1.7zM641.2 866l3.6-0.3 0.7 1.6 0.3 2.4 0.7 1.3-0.1 1-7 0.5-7 1.6-6.3 2.6-6 3.7-5.7 4.8-5.5 6.1-5.3 7.4-5.5 8.8 0-0.7 3-6.8 5-9.5 4.7-6.8 5-5.6 5.4-4.4 6.2-3.7 7-2.7zM525.5 876.3l2.9-0.1 2.3 0.5-0.2 0.3-0.1 2.5-0.6-0.7-1-0.3-4 0.3-7 1.7-8 2.7-6.4 2.7-5.6 2.9-5.7 3.4-5.7 4-7.6 6.3-7.2 7.2-6.7 8-5.8 8.2 0-5.2 5-6.7 4.7-5.6 5-5.2 5.3-4.9 5.4-4.3 9.5-6.3 10.6-5.4 10.2-3.6 5.1-1.4zM529.8 883.7l0.3-0.3-0.3 0.6 0 2.9-12.4 4-10.6 5-11 7-9.4 7.7-8.1 8.4-7.4 9.3-6.3 10-5.5 10.8 0-6.7 5.7-10.1 4.6-6.9 4.7-6 5-5.7 5.1-5 10.2-8.4 10.1-6.3 9.9-4.7 12.4-4.2zM636.2 889l8.6-0.1 8 1.5 2 5.9 0 1.4-6-2.1-6.4-1.2-6.6-0.2-6.7 0.8-6.3 1.5-7 2.7-6.7 3.3-9.9 5.8-0.5 0 10.8-8.3 8.7-5.3 8.7-3.7 4.9-1.3zM737.1 889.3l0 7.3-1.8 1.7-5.8 5-5.7 4-6.3 3.7-6.4 3-6.1 2.3-6.7 2-13.5 2.7-8.6 1-9.8 0.6-4.3-0.5-0.8-1.1-0.2-2.5 2.3 0.9 3.7 0.2 15-1.7 13-2.8 11.7-4 8.3-4 8.3-5.2 7.3-5.9zM528.1 894.3l1.7 0 0.1 0.4-2.1 1.6-10.4 5.2-6.3 3.7-10.7 7.6-9.6 8.9-8.5 10-4 5.6-4.1 6.7-3.5 6.7-3.1 6.6-5 14-3.5 15.1 0-13.2 3.7-11.5 3.3-8.2 4-8.1 4.3-7.5 5-7.3 5-6.2 5.3-5.7 5.7-5.4 5.8-4.6 6.2-4.4 7.4-4.3 7.7-3.7zM531.9 902l0.5-0.3 1 2.4 2.7 2.4 7 4.7 7.3 3.2 7.7 1.7 7.7 0.5 8.3-0.7 8.3-1.8 12.5-3.4-10.4 4.6-8.3 3-8.6 2-7.5 0.7-8-0.7-4.5-1-4-1.3-6.8-3.4-0.4-1.6-1-1.6-2.5 2.6-10.1 7.2-6 4.9-6 5.6-5.4 6-7.7 10.3-6.7 11.7-5.1 12-3.9 13.3-1.7 8.3-1 7.4-0.8 15.3 0.8 15.3 1.3 9 1.5 8-2.9 0-1.8-9.5-1.3-11.3-0.5-10.2 0.2-10 1-9.9 1.6-9.9 2.4-9.4 3.3-9.9 3.3-7.8 4-7.7 4.4-7 5.3-7.2 6.3-7.3 7.3-6.9 6.8-5.3 12.3-8.7 1-1.6-0.8-3-0.6-0.8-4.3 1.3-5 2.6-6 3.7-10.7 8.1-8.9 8.7-4.6 5.4-4.3 5.6-7.3 12-3.1 6.4-2.9 7-4.4 13.6-1.9 8.7-1.3 8.3-0.8 8-0.4 8.7 0.2 8.3 0.6 9 1.3 9.7 1.5 8.3-2.8 0-1.9-10.3-1.3-12.1-0.4-11.6 0.4-11.6 1.3-11.1 2.4-11.7 3-10.3 4-10.4 4.6-9.5 5-8.3 6.4-8.7 6.6-7.4 7.1-6.6 8.2-6.4 8.5-5.3zM615.7 906.7l8.1-0.3 7.6 0.6 7.1 1.7 7.2 3 6.2 4 5.5 5.1 3 3.6 2.7 3.9 1 3.4 1.3-0.6 2.4-0.3 14.6-0.1 10-0.5 7.7-1 7-1.4 8-2.3 7.7-3 7.3-3.7 7-4.5 0 5.7-8.9 5-9.8 4-6.9 2-6.3 1.3-12.4 1.5-8.7 0.2-9.3-0.3-7.4-0.6-3.3-0.9-0.6 1.5 0 5.3-0.3 0.3 0.2 1.1 19.4 2.7 10.3 0.7 9.7-0.1 9-0.9 9.3-1.9 8.3-2.7 7.7-3.3 0 5-6.9 2.8-8 2.3-6.8 1.4-8.3 0.9-8.3 0.3-9-0.5-23-3.3-3.4 0.3-0.4 0.9-1.3-4.7-1.8-4.3-2.2-4.3-2.6-4-3-3.7-3.3-3.2-3.7-2.9-3.7-2.3-4-2-4.3-1.7-9-2.1-9.7-0.8-15.3 0.3 8.9-1.6zM598.8 910.7l1 0 10.5 3.3 10.8 4.7 8.4 5.3 6.6 6.2 3 3.8 2.7 4.4 2 4.3 1.7 5.3 1.1 6 0.3 6.3-0.1 3.7-1.7 0.1-0.5 0.6 0.7 2.3 3.2 4.3 5.6 6 5.3 4.8 6.4 4.8 6.6 4.3 7.7 4 7 3 8 2.6 10.3 2.3 10.4 1.2 11 0 10.3-1.1 0 4.2-10 0.9-9 0.1-8.6-0.7-9.4-1.7-9.5-2.7-8.5-3.3-8.6-4.3-7.9-5-7.8-6-6.7-6.5-4-4.5-3-4-1.4-2.7-0.4-2.7-1.9-0.3 0-9-0.7-4.7-1.1-4-3.4-8-2.2-3.6-2.8-3.7-5.4-5.5-6.7-5-8-4.6zM595 911.7l0.3 0-5.9 7.6-7.3 8-6.7 5.7-6.4 4-4.4 2-3.9 1.3-4.3 1-5 0.7-6.6-0.1-0.8-1.9-0.1-1-0.5-0.3-2 3.6-8.7 10.4-6.4 9.3-4.4 8.3-3.6 8.7-3 9.7-2 10-1.2 12.6 0.1 12 1.4 12.7 2.6 12.3-3 0-2.4-11.5-1.4-10.8-0.3-11.7 0.7-11.3 1.6-10.4 3-11.2 4-10.2 5-9.6 4-6.2 4.4-5.7 11.5-12.7-0.2-1.6 6.7 0.6 6.6-0.4 6.7-1.4 6-2.3 6.3-3.4 5.7-4 6.3-5.4zM598.3 911.7l0.1-0.3 1 0.9 5.7 5.7 7 8.1 4.7 6.9 3.6 7.6 2.1 7.1 0.8 7.6-0.5 7.7-1.8 7.3 1.1-0.5 1.5-0.1 7.3 12.3 6.4 9.3 7 8.4 7.5 7.5 7.6 6.3 9 6 8.7 4.7 9.7 4 12.3 3.6 12.3 2 12.7 0.7 13-0.8 0 3.8-8.7 0.7-8.6 0-8.2-0.5-9.1-1.4-8.7-2-7.4-2.3-8.3-3.3-7.3-3.7-6.7-4-5.7-4-5.8-4.7-5.5-5.1-6.3-6.8-6-7.7-4.4-6.3-8.7-14.1-1.6-1.4-3 0.8-0.7 1-0.2 1.3 1.4 4.3 5.3 10.4 6.1 10 5.3 7.3 5.6 6.7 5.9 6 6.6 5.8 6.7 5 6.3 4 7.4 3.9 7.6 3.4 7.7 2.8 8 2.1 7.3 1.5 8.5 1.1-20.6 0-10.2-3.3-9.3-4-9.1-5-8.4-5.7-8.1-6.6-9.1-9.4-8-10.3-7-11.2-6.3-12.7-1.4-3.8-0.4-3-1.1 0 2.8-7 1.6-7.6 0.2-7.7-1.2-8-2.3-7-3.8-7.7-5-7.6zM597.3 912l0.1-0.3 3.7 12 2.1 10.3 0.5 9.3-1 9-1.3 4.5-1.6 4.3-4.4 7.4-3 3.7-3.1 3.1-3.6 3-3.9 2.7 1 0.3 0.7 10.4 2.1 11.6 2 8 2.3 7 3 7.7 3.7 7.7 4.4 7.6 4.7 7-3.9 0-7.4-12.1-5.6-12.5-3-8.8-2.4-9.1-1.6-9.2-1.9-14.9-1.5-0.3-0.6 0.3-0.4-0.3-2.3 0-0.3-0.3-1 0.2 1.5 20.4 1.3 8.3 1.7 7.7 2.3 7.6 3 8 3.4 7.4 4.2 7.6-3.6 0-4.2-7.9-3.6-8.5-2.7-7.9-2.3-9.1-1.7-9.9-0.9-11 0.2-9.3 0.4-2.1 0.8-1.3-1.5-0.6-3.8-0.4 4.8-1.9 4.3-2.2 4.4-2.8 3.6-3 3.4-3.4 2.9-3.7 2.6-4 1.9-4 1.6-4.3 1.2-4.3 1.1-9.7-0.5-10.7zM596.1 912.3l0 1.7-1.7 8.9-3.3 11.7-4 8.6-2.7 4.2-2.6 3.3-3.9 4-4.2 3.3-4.4 2.7-5.3 2.3-5.6 1.7-6.6 1.1-1.4-3.5-2.6 2.3-1.9 2.4-4.3 8.3-2.7 7-2 7-1.6 8.4-0.8 7.6-0.2 11 0.9 11 1.8 10 3 11-3.2 0-2.7-10.1-1.7-9.3-0.9-10.2-0.1-9 0.7-9.1 1.7-9.6 2.3-8.5 3-7.8 3.7-7.2 5.2-7.5 1.1-2.2 0.7 1.6 2 0 6.6-1.2 6-2 4.4-2.1 4-2.5 4-3.1 3.3-3.4 4.8-6.1 4.1-7.3 3.6-8.7zM537.1 920.7l1.3 0 0.4 1.8-1.7 0.3-2.3 1.3-8.7 7-7.4 7.2-6.7 8-4.7 6.7-3.7 6.3-3.7 7.4-3 7.3-2.3 7-2 7.7-1.6 8.6-1 8-0.4 10.4 0.4 10.6 1.2 11.4 2.1 10.6-2.9 0-2-9.9-1.1-9.1-0.6-9.3 0.1-10 0.9-10.3 1.4-8.7 2.3-9.7 2.7-8.1 3.7-8.8 4-7.7 4.6-7.4 5.4-7.1 6.4-7.2 7.2-6.7 7.4-5.6zM540.4 927.3l1 3.7-7 5.6-5.8 5.7-5.9 7-5.4 7.7-6.4 11.7-4.7 12-3.3 13-1.2 7.6-0.7 7-0.2 10 0.5 9.7 1.3 10.3 2.1 10-3 0-1.6-7.4-1.4-9.2-0.7-9-0.1-9.4 0.5-9.2 1-7.6 1.7-8.2 2.3-8.3 2.7-7.3 3.3-7.4 3.7-6.7 4-6.2 4.3-5.8 4.7-5.4 4.9-4.9 7.4-6.6zM663 948.3l0.1-0.3 1 1.1 2.7 1.5 7.6 2.6 10 2.6 9.7 1.7 11.3 0.9 11-0.4 10.7-1.7 10-2.9 0 4.6-10.2 2.7-9.5 1.3-10.3 0.3-10.7-0.9-6.6-1.1-7.2-1.6-13.5-4.4-4.5-2-2.4-1.6zM545.4 949.7l1-0.3 0.4 0.3 0.3 1.4-1 0.3-1.5 1.3-4 5.3-4.7 7.3-4 7.7-4 10.3-2.6 10-1.8 12.7-0.3 7 0.1 7.3 1.6 14.4 3.1 13.6-3.1 0-3.1-14.2-1.4-13.4 0.1-13.7 0.6-5.7 1.3-8 1.7-6.9 2-6.2 2.3-5.9 3-6.3 3.7-6.3 4.7-6.7 3.2-3.7zM658.7 959l1.4 0 2.4 0.7 12.3 5.5 7 2.7 13 3.6 10.6 1.7 10.7 0.4 10.3-0.8 10.7-2.1 0 4.4-10.6 1.9-9.7 0.6-10-0.4-10.1-1.5-10.2-2.7-10.5-4-14.9-7.5-3.3-0.9zM652 964.3l3.8 0 2 2.4 3.3 2.9 8.7 5.8 9.6 5.1 10.7 4.1 11.7 2.9 11.6 1.4 11.7-0.1 12-1.5 0 4.2-11.7 1.4-11.3 0-10.8-1.2-12.2-3-11.3-4.4-11.1-6-9.2-6.6zM551.8 966.7l0.3-0.2 1.4 1.8-0.1 1.3-4.1 11.7-2 7.4-1.4 8-0.8 9 0.2 10.6 1.3 11 2.3 10.7 3.3 10.3-3.3 0-3.1-10.4-2-9.4-1.4-11.5-0.1-10.3 0.8-9.5 1.7-9 2.3-8 4.2-10.9zM630.7 966.7l1.4 0.3 1.8 1.7 10.8 14.3 9.4 9.8 10.3 8.4 11.4 6.9 7 3.3 7 2.7 8 2.4 7.6 1.6 7.7 1.1 8 0.4 8-0.1 8-0.8 0 4-7.7 0.7-8.3 0.1-8.7-0.5-7.3-1-7.8-1.7-7.8-2.3-7-2.7-7-3.3-7-4-6.3-4.3-6.7-5.4-5.7-5.4-6-6.5-5-6.5-6.7-9.9zM558.9 976.7l0.9-0.1 0.3 0.7-1.2 2-1 3.7-1.3 6.7-0.7 6.3-0.4 8.7 0.4 8.6 1.1 8.7 1.9 9.3 2.7 9 3.1 8-3.3 0-2.6-6.9-3.7-13.5-1.3-7.7-0.7-6.4-0.2-12.1 1.2-11.5 2.3-9.7 1.2-2.5zM604.7 977l0.7-0.3 0.4 0.3 2 2.7 7.2 16 5.9 11 5 7.6 5.7 7.4 7.2 7.8 7.6 7 8.7 6.4 9 5.4-7.1 0-4.5-3-6.3-4.6-5.5-4.7-5.6-5.5-5-5.6-7.7-10.2-6.3-10.7-4.7-9.6-5.8-14.1-0.9-1.6-1.2-1zM598.7 979.3l1.1 0 0.2 3 0.9 4 5 14.4 4.1 9 4.9 9 5.7 8.6 6.1 7.7 6.4 6.8 7.3 6.5-5.3 0-3.9-3.6-4.8-5-5-6-4-5.4-4.3-6.7-6.3-12-5.4-13.4-2.6-8.6-1.8-7.6 0.8 0zM564.1 980.3l2.5 0-1 10.7-0.2 9.3 0.6 9 1.6 10 1.7 7.4 2.3 7.3 2.6 7 3.4 7.3-3.4 0-0.8-1.5-5-12.7-3.3-12.6-1.5-9.8-0.7-9.4 0.2-9zM588.8 980.7l1 0.6 0.9 2 5.5 20.7 3 8.3 3.7 8.4 3.8 7 4.5 7.3 5.4 7.3 5.2 6-4.4 0-1.6-1.9-8.4-11.5-6.6-11.9-4.4-10.1-3.6-11.2-3-12.9-1-6.2zM459.1 1041.7l1.3 6.6-1.3 0z" fill="#52359A"/>
<path d="M461.9 772.3l0.7-0.3 6.6 0-10.1 5 0-3.2zM492.1 772.3l1.1-0.3 13.4 0-11.8 2.8-12.4 4-12 5-11.3 5.7 0-3.3 3.6-1.9 14.3-6.6zM558.7 772l14.1 0 7 2.7 7.6 3.6 6.7 4 6.3 4.7 5.9 5.3 4.5 5 3.6 4.9 3.4 5.6 2.6 5.8 2 5.9 1.3 5.8 1.6 14-1.4 0-1.5-2.3-3.1-14.7-1.8-5.3-2.2-5-2.3-4.3-3.1-4.7-6.5-7.7-4.3-4-4.7-3.7-5-3.4-6-3.4-6.3-3-6-2.3zM599.2 772l7.6 0 7.8 6 5.6 5.3 4.9 5.7 4 5.7 3.3 6 2.4 5.5 1.6 5.2 1.1 4.9 0.7 5.4-0.1 8.4-2.3 12.9 0 4.1-3.7-3.8 2.1-11.3 0-9-0.6-5-1.3-5.3-1.6-5-2-4.7-5.1-8.7-6.8-8.3-8.4-7.6zM625.9 772l6.3 0 1.4 1.3 4.8 5.4 4 5.2 3.7 5.8 3 5.8 3.3 9 1.9 9.5 0.4 9.3-1.2 9-1.7 6-2 5-7.1 12.7-0.3 0-0.6-1.8-2.7 0.3-7 1.6-6.3 2.4-4.7 2.7-4 2.9-4 3.7-3.5 4.2-4.3 7-3.3 8-2.7 9.7-2.2 11.3 0-4.8 0.7-8.5 1.6-10 3-9.3 2-4.2 2.7-4.3 3.7-4.6 4-3.8 4.7-3.5 4.8-2.7 6-2.3 6.5-1.6 3.3 2.7 2.8-3.1 2.4-4 2-5 1.7-6 1.1-8.3-0.1-8-1.4-8.4-2.4-7.6-3.7-8-4.6-7.4-5.6-7zM649.1 772l5.8 0 5.9 8.1 4.6 8.1 3.4 7.8 2.3 7.7 1.4 8.3 0.4 8.3-0.5 6.4-1.3 6.6-2 6.3-3 6.7-3 5.1-4 5.4-4.3 4.8-6.7 6.1-1.7 2.4-0.4-0.4-0.3-2.4-0.7-1.3-0.2-2.6 1.6-0.2 1.7-0.8 4-3.4 4.9-6 4-6.3 2.9-6.4 2-6 1.5-6.6 0.6-7-0.2-6.4-0.8-6.3-1.4-6-2.1-6.3-2.6-6-3.3-6-4-6zM670.6 772l5.5 0 4.3 6.8 3.7 6.9 3 7.1 2.3 7.2 1.5 6.3 0.8 6 0.3 5.4-0.1 5.6-0.5 5.4-1 5-1.6 5.9-2 5.2-2.4 4.8-4.6 7.4-5.5 6.7-6.7 6.3-7.5 5.7-10 5.9-1.3-3.6-6-0.1-5 0.5-4.4 1-4.3 1.4-4.3 2-6.7 4.1-6 5-6 6.2-8.1 9.9 5.1-8.7 5.7-8 5.3-6 5.8-5 4.6-3 4.8-2.3 5.1-1.8 5.7-1.1 6.3-0.4 0.4 0.3 1.2 3.7 1.1 1 2-0.1 2.3-1 7.4-5.1 7.9-7.2 5.9-7 5.1-8 3.9-9 2.3-9 1-9.6-0.4-9.7-1.9-10-3.3-10-4.7-9.7zM691.1 772l5.2 0 1.1 1.9 3.7 6.6 3.3 7.3 2.7 7.3 2 7.1 1.8 10.5 0.5 10.6-1 9.9-2.3 9.9-3.3 8.5-4.4 7.8-5.6 7.5-6.7 6.8-8.5 6.6-10 6-10.4 4.7-3.1 0.8-2.3-0.2-0.7-0.9-0.3-1.4 2.3-0.2 3.3-1.2 11.4-6 9.3-6.4 7.7-6.8 5.5-6.4 4.4-6.3 3.7-7 2.9-7.7 2-8.3 0.9-8.3 0-8.4-1-9-2.2-9.3-3.1-9-4-8.7zM710.5 772l4.9 0 4 7.5 3.7 8.4 3 8.6 2.3 9.2 1.4 8.3 0.6 8-0.1 7.3-0.7 7.4-1.2 6.2-2 7.2-2.3 6.2-3 6.1-3.3 5.5-4 5.4-4.6 5-5.1 4.7-5.6 4.3-6.4 4-8.5 4.4-10.2 4-11.4 3.3-4.9 0.5-0.3 1.2 0.3 0.8-5.7-3-6.6-2.3-6.7-1.1-7-0.2-7 0.9-7 1.7-7.7 2.7-10.6 4.6 9.2-5.8 9.4-4.7 7.7-2.6 8.3-1.6 5.4-0.2 5.2 0.4 4.9 1 4.9 1.6 1.3 0.8 0 1 1.7 4.5 1-1.2 1.6-1 17.4-6.5 7-3.3 6-3.4 5.3-3.6 5.3-4.2 4.6-4.3 4.2-4.7 3.7-5 3.3-5.3 2.7-5.4 2.4-6 1.7-5.6 1.3-6.4 0.9-6.6 0.3-6-0.2-6.4-0.7-6.6-1.1-6.4-1.7-7-2.2-7-2.4-6-3.2-7zM728.9 772l4.7 0 3.5 7 0 11-3.8-9.3zM523.3 779.3l13.1 0 12.2 1.4 12.9 3 11.4 4.3 10.3 5.7 8.8 6.6 7.4 7.7 3.4 4.4 3 4.8 3.3 6.7 2.3 6.6 0.8 4.5-0.3 1.3-0.7 1 0.6 0.6 1.6 0.1-4 2.5-3.6 2.8-3.4 3.2-3 3.5-2.8 4-2.1 3.7-1.7 4-1.3 4.3-1.4 8.3 0.2 9.4 1.6 9.6 3.9 13.3 0 1-5-11.3-3-8.8-1.8-8.8-0.3-8.7 1.4-8.7 2.7-7.4 4.3-7.3 5.5-6.3-2.4 0.4 0.5-1 0-1.4-1.4-3.6-3.7-6-4.6-6-6.9-7-7.7-5.9-6-3.6-6-3-6.3-2.4-6.7-2-6.6-1.4-7.4-1-7.3-0.4-7.7 0.1-7.6 0.7-7.4 1.1-7.3 1.6-8.3 2.4-7.4 2.6-8 3.4-7.3 3.6-7 3.9 0-3.4 7.1-4 7.5-3.7 7.2-3 14.2-4.6 12.4-2.7 11.6-1.3 11.7-0.1 10.6 1.1 8.4 1.6 8.7 2.7 7.9 3.3 7.2 4 4.9 3.4 4.5 3.6 7.8 8 4 5.4 3 4.8 2.3 4.6 1.5 4.2 1.8-0.1 2.4-0.9 3.3-0.7 0.3-0.3 0.4 0.3 0.9-0.3-4.2-10.6-4.2-8-5.8-8-6.7-7-8-6.2-8.7-5-10-4.3-10.7-3-11.6-1.9-11-0.6-12 0.5-12 1.6-11.7 2.8-12 3.9-11.7 4.9-11.3 5.9 0-3.3 13-6.7 12.3-5 9.4-3 9.4-2.3 9.6-1.7zM515.8 806l12.3 0 11 1.3 10.5 2.7 9.2 3.7 8.9 5 7.9 6 6.2 6 7.3 9 2.7 2.6-5 1.4-1.5-3-2-3-6.9-7.5-7.6-6.3-8.7-5.4-7-3.3-6.7-2.4-7.6-1.9-7.7-1.2-8.7-0.5-8.6 0.4-9.7 1.2-9 2-8.7 2.7-9.3 3.7-9 4.3-9 5.3 0-3.5 10.5-6 10.9-5 9.2-3.3 8.5-2.3 8.6-1.7zM514.8 819l9.3 0 8.7 0.9 8.1 1.8 7.8 2.6 6.5 3 6.7 4 5.9 4.4 9 7.8 2.6 1.7 1.7 0.5 0 0.3-4.3 1.7-0.7-0.4-2.3-1.6-7-6.4-6-4.5-7-4.2-6.7-3.1-5.7-2-6.6-1.7-6.4-1-7-0.5-7.6 0.1-7.7 0.8-8.3 1.7-8 2.2-7.4 2.7-8 3.7-8 4.3-7.3 4.7 0-3.6 10.8-6.6 11.2-5.3 9.1-3.3 8.4-2.4 9.2-1.6zM513.5 831.7l6.6-0.2 6.3 0.5 6.3 1 5.2 1.3 6.4 2.4 6.2 3 4.2 2.6 7.4 5.5 6.3 3.4 2-0.6 1.7-1 0.7 0.1-1.8 7.3-0.4 7.3 0.7 7 2 7.4 3 6.6 4.2 6.7 5.1 6.3 9.2 9.6 0 0.3-8.8-6.9-7.2-6.6-5-6-4.4-7-3-7.4-1.5-7-0.3-7.6 1-7.7-4.5-0.3-1.5-0.7-1.5-1-3.5-3.7-2.8-2.1-5.4-3-5.3-2.3-9-2.7-10-1.3-10.7 0.1-10 1.6-10.6 2.9-10.7 4.3-10.7 5.7-10.3 7 0-3.7 10.3-6.8 10.9-5.7 8.1-3.3 8.6-2.7 7.8-1.6zM514.1 843.7l8.7 0 9 1.3 5.3 1.7 8 4 3.7 1.3-1 0.2-0.3 0.5-0.5 5 0.1 6.3 0.9 5.7 1.3 5 1.9 4.6 2.4 4.4 3 4.3 3 3.3 3.7 3.4 3.8 2.8 4.3 2.7 10 4.6 13.8 4.5-5.1-0.6-8.3-1.7-10.9-3.3-4.5-2-4.8-2.7-4.3-3-3.5-3.2-3.7-4.1-3-4.4-2.3-4.4-2-5.3-1.4-5.9-0.7-6.7 0.2-7.3 1.1-0.7-1.4-2-1.5-1.2-5.3-2.3-8.4-1.6-9-0.3-9.3 0.9-10 2.4-10 3.6-9.3 4.6-9.7 6-9 7 0-3.9 10.8-7.9 11-6.3 8.4-3.7 7.9-2.6 8.6-2zM518.7 854.7l7.1 0.1 9.3 1.2-1.3 0.4-1 1.3 0 0.7-9-1-9.7 0.5-10 1.9-10.3 3.4-9.4 4.4-8.6 5.2-8.7 6.4-8 7.1 0-4.1 2.4-2.2 10.6-8.3 11.4-7 8.6-4 8.6-3 8.6-2zM737.1 862.3l0 11.1-1 1.6-4.3 6.2-4.7 5.5-5.5 5.3-5.9 4.7-9.9 6-10.7 4.6-13.4 4-17.9 3.6-2 0.8-1.4 1.3-0.4-2.3-0.3-0.4 0.1-1.1 0.3-0.2 4.1-1.3 16.6-3.8 10.3-3.3 10.7-4.8 9.6-5.9 8.1-6.6 7.1-7.6 5.6-8zM522 864.7l7.1-0.3 3 0.6-1 0.8-2 0.5-11.7 1.6-9 2-8.6 2.9-8 3.7-8.7 5-8.7 6.3-8 7.1-7.3 7.8 0-4.5 3.7-3.9 10-9 5.3-4 6.1-4 9.4-5 9.2-3.6 10-2.7zM528 873.7l2.8-0.3 0 3.3-3.4-0.4-4.3 0.5-6 1.3-6.7 2.1-11.6 5-10.7 6.4-7.7 5.8-7.9 7.3-6.9 7.6-6.5 8.6 0-5 5.7-7.1 5-5.5 5.1-5 5.5-4.6 5.4-4 10.4-6.4 10.4-4.6 11.1-3.4zM529.8 881l0.3-0.3 0 2.6-0.6 0.7-3.1 1.3-11.3 3.9-9.3 4.3-10 6.1-9.4 7.3-7.7 7.4-7.1 8.4-6.7 9.6-5.8 10.4 0-6.2 5.3-8.8 4.4-6.1 5-6.1 5-5.4 5.4-5.1 9.3-7.3 10.5-6.4 8.7-4 14.4-4.8zM529.8 889.3l4.9 7.4 6.1 6.1 7 4.7 7.6 3.3 8 1.8 8.7 0.5 9-0.6 14.1-2.2-11.9 3.7-9.3 2-8.2 0.8-7.8-0.5-8.5-2-7.4-3.3-4.6-3-3.7-3.1-1.4-3-10.3 5.3-9.3 6-8 6.3-7.9 7.5-4.6 5.3-4.4 5.7-4 6-3.7 6.3-3.3 6.7-3 7-4.6 14.3-2 9-1.3 8.4-0.8 8-0.4 8.6 0.2 9 0.6 9 1.3 9.7 1.5 8.3-2.8 0-1.8-10.2-1.4-12.1-0.4-12 0.4-11.8 1.4-11.4 2-10.2 3-10.8 3.6-9.9 4-8.6 4.7-8.3 5.7-8.3 6-7.4 7.6-7.6 8.1-6.7 7.8-5.3 12.1-6.8 2.8-1.9 0.3-0.3-0.2-1-0.9-3-1-0.5-1.3 0.2-5 1.8-7.7 3.6-7 4-6 4.1-5.3 4.2-5.3 4.7-5.4 5.5-4.5 5.4-4.3 5.6-4.3 6.7-3.4 6-6 13-2.6 7.3-2.2 7.5 0-10 2.7-7.2 5.3-11.5 6.3-10.8 7-9.5 7.8-8.5 9.9-8.6 5.6-4 5.9-3.7 7.1-3.7 6.4-2.6 3.7-1 2.6 0.1 0-2.1 0.3-0.4zM737 896.3l0.1 6.7-5.4 4.3-5.9 4-6 3.4-6.7 3-10 3.3-10.9 2.3-10.9 1.4-18.5 1.3-1-4.2 3 0.6 4 0 17.6-1.8 11.7-2.4 11.3-3.7 7.4-3.4 7.3-4.2 7-5.2zM533.8 908.7l1 0-0.4 0.9-1.3 1.4-11.7 8.2-6 4.7-6.2 5.8-5.9 6.3-5.7 7.3-4.6 7-4.1 7.4-3.6 8-3 8-2.7 9.3-1.7 8-1.3 9.3-0.8 11.4 0.2 12.3 1.3 12.7 2.1 11.6-2.9 0-2.1-11.3-1.1-10-0.4-11 0.3-10.7 1.2-11.2 1.7-9 2.7-10 3.6-10.2 4-8.7 5-8.9 5.4-7.7 6.3-7.6 7-7 7.7-6.3 9.3-6.4zM609.2 909l9.9 0.1 8.9 1.2 8.7 2.7 7.1 3.7 6.4 5 5.6 6.4 4.3 7.5 3 8.5 2-0.5 2.7 0.1 15 2.5 9 0.9 7 0.3 7-0.2 8-0.8 8.3-1.6 8-2.3 7-2.8 0 4.9-10 3.4-11.5 2.3-10.8 0.9-11.4-0.4-10.9-1.5-17.1-3.3-1.6 0.3-1 0.7 0 1.7-0.6 1 0.2 1 1.7 1.2 6.7 2.9 11.6 3.7 10.7 2.3 11.7 1.2 11-0.1 11-1.4 10.3-2.7 0 4.6-7.8 1.9-7.5 1.2-7.7 0.6-8-0.1-11.4-1.3-10.4-2.4-11.2-3.6-12-5.1-0.3 0-0.6 0.7-1.5 3.4-1.1-9.4-2.6-8.6-4.1-7.7-2.7-3.7-3-3.3-4.1-3.6-4.3-2.9-5-2.6-5.4-2-5-1.4-6.6-1.3-16.3-1.5zM598.9 911l0.7 0 8.9 4 9.6 5.3 6.7 5 6 6 2.6 3.6 2.4 3.9 2 4.2 1.3 3.9 1.6 8.4 0 8.7 1.8 0.3 0.2 2 1.3 3 6.1 7.7 6.7 6.5 7.3 5.9 7 4.7 7.3 4 7.7 3.4 7.7 2.6 11 2.7 10.6 1.2 10.7 0.2 11-1 0 4-9.7 0.9-10 0-8.6-0.8-10.5-2-8.9-2.6-9-3.7-8.3-4.3-7.6-5-8-6.4-7.1-6.9-5.3-6.4-5.1-7.7-1.6-2-1.3-0.1-1 0.5-0.8 0 0.3-4.7-0.1-4.3-0.5-4.4-1-4.3-1.4-4-2-4.3-4.8-7.4-4.8-5.3-5.6-4.8-6.6-4.7zM597.1 911.3l2.7 15.7 0.4 10.3-0.4 5.4-0.8 4.6-1.2 4.7-2 5-2.7 4.8-3 4.1-3.7 4-4.1 3.4-5.7 3.7-6.5 3-0.9 0.3-2.1 0.1-0.3-0.4-2.6 0.3-1.2 17 0.5 13 1.4 9.7 2.3 9.7 3.1 9.3 4 9.3-3.4 0-2.8-6.6-2.7-7.6-2-7.3-1.6-8.4-1-8.4-0.4-9.3 0.4-7.7 1.3-13-0.2-1-2-2.3 0.2-0.3 5.3-1.5 4.7-1.7 4-2 4.3-2.8 3.7-2.9 3.3-3.3 2.9-3.5 2.6-4 2-4 1.7-4.4 1.3-4.6 1-5.4 0.7-10.3zM594.5 911.7l0.4 0-4.5 4.6-8.1 7.4-6.3 4.6-6.6 3.7-7.2 2.7-6.5 1.3-7.6 0.3-5-0.6-0.4-0.4-0.3-2.3-0.7-1.3 0-1-0.6-1.8 6.3 1.3 6.7 0.4 6.7-0.7 6.3-1.7 6-2.3 6.3-3.4 7-4.6zM598.3 912l0.1-0.1 0.7 0.8 4 5 6 8.6 3.7 6.6 2.6 6.5 2 8.5 0.4 4.4 0 4.4-1.4 8.1-1.3 4.3-1.8 4.2 0.5-0.2 0.4 0.2 0.1 2.4 1 3 4.4 9.3 4.2 7.7 4.7 7.3 5.9 8 6.8 7.7 6.8 6.4 8 6.3 8.3 5.5 8.7 4.5 9 3.8 9.8 3.1-11.9 0-2.5-1-7.4-3.3-7.3-4-6.8-4.3-6.2-4.7-6.1-5.3-5.9-6-5.7-6.7-4.7-6.4-4.6-7.3-4.7-8.5-4.3-9.2-2.6-6.9-0.8-0.2-4.3 1.9-0.7 0-1 0.6-0.8 0 4.3-7 2.8-7 1.5-8 0.1-8-1.3-8-2.8-8.3-3.9-8.4zM595.7 912.3l0.3 0-0.2 1-2.7 8.5-4 10-4 7.2-5 6.5-3.6 3.5-3.8 3-4.3 2.7-4.3 2-6.3 2-6 1-1.7 0.1-1-1.6-6.1 9.1-3.5 6.7-2.9 7.3-2.3 8-1.6 8-0.9 7.4-0.3 11 0.7 10.6 1.8 10.7 3 11.3-3.2 0-2.7-10.6-1.7-9.9-0.7-9.1 0-9.4 0.7-9 1.7-9.3 2.3-8.4 3.4-8.6 3.6-7.1 5.9-9.2 1.8-4.1 8.7-1 4-1.1 4.3-1.7 4-2 3.7-2.4 6.6-5.8 4.2-4.9 4-6 4-7.4zM536.9 917.7l0.5-0.3 1 3.4-2 0.1-2.6 1.3-8 6-8.4 7.8-7.5 8.7-4.7 6.6-4 6.7-3.6 7-3 7.3-2.6 7.7-2.1 7.7-1.6 8.6-1 8-0.5 11 0.4 11.4 1.1 10 2.2 11.6-2.9 0-1.8-9.2-1.4-10.7-0.5-10.1 0.2-9.8 1-10.5 1.3-7.9 2.4-9.6 3-9 3.6-8.6 4.4-8.2 5-7.7 5.3-6.9 6.2-6.8 6.9-6.3 7.4-5.7zM736.7 920l0.4-0.2 0 5.4-0.7 0.5-6.5 3.3-6.5 2.7-6.2 2-7.1 1.6-12.8 1.7-13.2 0.2-14.3-1.3-3.7-0.9-2-1.3 0-1.4 8.3 1.2 13.4 0.4 11.3-0.6 9.3-1.4 8.7-2.1 7.7-2.6 7.3-3.4zM539.4 924.3l0-0.2 1.1 3.2-0.4 0.7-14.5 14-5.4 6.3-4.9 7-3.6 6-3.1 6-5 12.7-2 6.7-1.6 7.3-1.7 13.7-0.3 10.3 0.5 10.3 1.4 10.7 1.9 9.3-3 0-1.7-8.4-1.3-9.5-0.7-9.4 0-8.3 0.6-9.4 1.1-7.7 1.6-8.1 2.4-8.2 2.6-7.3 3.4-7.4 3.6-6.7 4-6.3 4-5.3 4.7-5.5 5.1-5.1 8.9-8.1zM541.8 936.7l1-0.1 0.5 0.4-12.4 14-3.9 5.3-4 6.4-5.4 10.6-4.3 12.4-1.7 7-1.4 7.6-0.7 7.4-0.3 8.6 0.3 8.4 0.7 7.6 1.4 8.4 1.7 7.6-3 0-1.9-8.5-1.3-8.8-0.7-7.7-0.2-7.3 0.3-8 0.9-8.6 1.4-7.5 1.6-6.7 2.4-7.2 2.6-6.6 3.4-6.8 3.6-6.3 4.7-6.7 5.3-6.4 6.4-6.5zM545.4 945.7l0.8 1.6 0.2 2.3-1.3 0.3-1.3 0.9-3.9 4.2-5.2 7.7-4.5 8-4.3 10.3-2.9 10.3-2.1 13.4-0.5 7.6 0.1 7.4 1.4 14.3 3.2 14.3-3.1 0-1.9-7.7-1.3-7.4-1.3-14.2 0.4-14 0.9-6.8 1.3-6.9 1.7-6.4 2.3-6.8 2.7-6.4 3-5.8 3.3-5.6 4-5.6 3.3-4.1zM657.6 960.7l1.5-0.1 1.9 0.7 10.8 5.6 8.3 3.7 6.3 2.2 7.4 2 11 2 10.6 0.6 11-0.6 10.7-1.9 0 4.4-10.6 1.7-10.1 0.5-10.6-0.7-10.3-1.8-11.2-3.3-10.2-4.4-11.3-6.3-3.7-2.6zM647.7 964.3l4.5 0 6.9 6.9 8.7 6.4 10 5.6 10.3 4.3 12 3.4 12 1.7 12.3 0.2 12.7-1.5 0 4.2-12 1.3-12-0.1-11.9-1.7-12.1-3.3-11.2-4.7-10.5-6-8.1-6-9.2-8.9zM551.3 965.7l0.5 1-0.4 2.4-4.4 11.9-2.4 8.3-1.3 7.4-0.7 7-0.1 11.6 1.1 11 2.3 11.7 3.2 10.3-3.2 0-3.5-12-2-11.2-0.8-10.4 0.2-10.4 1.3-10.7 2.3-9.7 3.7-10 2.7-5.8zM630.4 966.7l2.9 5 5.9 8.6 4.7 6 5.5 6 5.4 5.2 5.6 4.7 6 4.3 6.7 4 7.3 3.7 7.4 3 7.3 2.4 8.3 1.9 8.4 1.3 8 0.5 8.6 0 8.7-0.8 0 3.9-8.7 0.8-8.6 0-7.9-0.5-8.9-1.4-8.5-2-7.2-2.3-8.1-3.3-7.1-3.7-7.5-4.7-7.2-5.3-6.7-6-6.3-6.6-7-8.8-6.3-9.7-1.7-4.2 0.1-1.4zM619.7 971l0.7-0.2 2 2.2 10.8 17.3 5 6.7 5.4 6.3 5.5 5.6 6 5.3 5.7 4.3 6.6 4.4 6.7 3.6 6.3 3 7 2.7 7.7 2.3 9.7 2.1 11 1.2 10.6 0.3 10.7-0.8 0 3.8-9 0.7-9.3 0-9.7-0.8-8.3-1.3-8.3-2-9.1-3-8.5-3.7-8-4.3-7.2-4.7-7.3-5.7-6.6-6.1-6.4-6.9-4.6-5.9-4.4-6.2-10.1-16.9-1.4-1.6-1.2-0.7zM557.6 974l0.6 0.3 1.5 2-1.5 1-1.2 2-1.3 4-1.1 4.7-1.4 11-0.1 12 0.8 9.3 1.7 9.4 2.6 9.6 3.3 9-3.3 0-2.8-7.8-3.3-13.3-1-6.3-0.7-7.9 0-12.3 1.4-10.8 2.3-9.1 1.3-3.2zM603.4 977.3l1.3 1.4 1.1 1.8 5.9 14.2 4.9 10 4.7 8 5.6 8 6.7 8 7.2 7.1 8 6.7 8.5 5.8-6.3 0-4.2-3-5.7-4.6-5.7-5.3-5.3-5.7-4.7-5.7-7.3-10.8-6.3-11.8-6.4-15.5-2.6-8.2zM595.7 980l1.4 0 2.5 10 3.7 11 4.3 10 4.7 9 4.6 7.3 5.7 7.7 6.2 7 6.6 6.3-5 0-2.6-2.6-4.7-5.1-4.7-5.7-4.3-6.2-3.7-5.9-5.6-11-4.7-11.8-5.9-19.7zM571.7 981l1.9 0.3-0.8 1.4-0.4 3 0.1 11.3 1.1 10.7 2 10.3 2.4 8.3 2.6 7.4 3.3 7.3 3.8 7.3-3.6 0-1.3-2.6-5.7-12.8-4-13.2-2-10.5-1.1-11.9 0.2-11 0.6-3.3zM587.9 981l0.7 0 2 11.3 2.7 10.7 2.7 8.3 2.9 7.4 4.1 8.3 4.2 7.3 5 7.4 5.4 6.6-4.3 0-1.9-2.4-7.6-11.2-3.7-6.6-3-6.3-4.3-11.2-3.4-12-2.2-12.9 0-3zM577.2 981.7l0.6 0.3 0.6-0.4 1.6 0.1 1.7 13.3 1.5 9.3 2.3 9.4 2.8 8.3 2.7 6.7 3.3 7 3.6 6.3 4.1 6.3-3.9 0-6.7-11.5-5.3-12.2-2.7-8.1-2.3-9.5-1.7-10.1-1.2-11.6z" fill="#7E4080"/>
<path d="M459.1 772l3.6 0-3.6 1.9zM483.1 772.3l0.9-0.3 9.5 0-8.7 2.8-8.7 3.3-8.3 3.8-8.7 4.4 0-3.1 11.7-5.9zM572.5 772l10.3 0 8.7 4.3 6.9 4.4 5.7 4.3 5.4 5 4.9 5.6 3.7 5.1 3.3 5.8 2.4 5.3 2 6.1 1.3 6.7 0.5 6.7-0.3 5.4-0.5 1.6-0.7 1-0.8 0.4-1.7-14.7-2.6-9.7-4.2-9-5.6-8.3-3.7-4.3-4.1-4-4.6-3.9-4.7-3.3-10.3-5.9zM606.6 772l6.8 0 8.8 7.7 4.9 5.3 4.3 5.8 3.7 6 3 6.6 1.7 4.8 1.3 5.5 0.8 5.6 0.2 6-0.4 5-0.9 5.6-2 7.3-1.9 4.8-1-1-0.3-2.7 2.3-13 0.2-9.3-1.2-8.3-2.7-8.7-4.6-9.3-6.2-8.7-7.6-7.8zM632.1 772l5.8 0 1.9 2 4.3 5.1 4 5.7 3.3 5.7 2.7 5.6 3 8.9 1.7 9.4 0.1 9.6-1.5 9.2-1.6 5.5-2.7 6.2-2.7 4.7-4.8 7.4-1.8 3.5-0.7-0.6-6.7 1-5.3 1.6-4.7 2-4 2.2-4 2.9-3.6 3.3-3.3 3.8-4.2 6-3.4 6.6-3.3 8.4-3.2 9.9 0-1.6 1.7-8.8 2.7-9.9 3.6-8.7 4.4-7 3.3-4 3.9-3.6 4.1-3 4.8-2.7 6.9-2.6 6.6-1.4 2.4-0.3 0.1 1 0.7 1 1.2-2.5 5.7-9.8 1.8-4.4 1.6-5 1.4-7.6 0.3-8.4-1-8.3-2.1-8-3.2-8-4.4-7.7-5.3-7.3zM654.7 772l5.5 0 6.2 9.1 4.7 8.9 3.3 8.8 2 8.1 1 8.1 0 7.7-0.8 6.6-1.5 6.3-2.3 6.5-3 6.1-3 4.8-3.7 4.9-4.7 5.1-8.3 7.8-1.5 1.9-0.8 2-1.4-4 0.4-1.5 1.8-2.2 6.9-6.3 3.9-4.4 4.2-6 3.4-6 2.2-5.3 1.7-5.3 1.1-5 0.6-5.7 0.1-6.7-0.5-6.3-1.3-6.7-2-6.6-2.6-6.4-3.1-6-3.9-6.3zM676 772l5.1 0 5 8.2 3.7 7.4 2.6 6.9 2 6.7 1.5 7.1 0.6 5.7 0.2 6-0.3 6-0.6 5.1-1.4 6-1.6 5.3-2 4.8-2.7 5.1-6 8.7-6.9 7.3-8.1 6.7-13 8.6-2.3 2.6-1-2.1-8.4-0.7-7.6 0.8-8.4 2.6-6.3 3.1-7 4.6-6 5.1-8.8 8.4 6.5-8.4 7-7.5 6-5.1 6.9-4.3 4.4-2 4-1.4 4.7-1 5-0.5 6 0.2 1.3 3.4 9.7-5.6 7-5.2 6.7-6.3 5.4-6.3 4.6-7 4.4-9.3 2.7-9.4 1.2-10-0.2-10-1.7-10-3.3-10.6-4.7-10zM696.2 772l4.8 0 2.1 3.5 3.7 7.1 3 7 2.3 6.8 2 7.7 1.7 11.1 0.2 10.1-1.2 10.7-2.4 9.2-3.3 8.3-4.7 8.2-5.6 7.4-7 6.9-7.8 6-8.8 5.3-9.9 4.7-10.5 3.8-1.4-4.4 2.4 0.3 3-0.6 5.3-2.2 6.3-3.1 10.7-6.6 4.7-3.6 4.6-4.2 5.6-6.1 4.5-6.3 4.1-7.3 3-7.4 2.3-8.6 1.1-8.4 0.2-9.3-0.9-9.3-2-9.4-3.1-9.3-4-9zM715.3 772l4.6 0 4.2 8 3.3 7.7 2.7 7.5 2 7.2 1.7 8.3 1.1 12.3-0.5 12.1-1 6.7-1.3 5.9-3.7 10.5-5 9.6-6 8.3-7.3 7.6-8.6 6.6-10.5 6-12.2 5-14.1 4-3.9 0.6-2.7-0.4-1.1-0.8 0.1-1.2 3.7-0.3 5.3-1.3 13.7-4.7 11.3-5.4 9.3-6 7.4-6.2 6.6-7.3 5.3-7.6 4.2-8.4 3.4-9.3 2-9.7 1-10.6-0.5-11-1.8-11.7-3-10.7-4.4-11zM733.5 772l3.6 0 0 7.2zM526.3 776l8.1 0 7.4 0.4 7.6 0.9 8.3 1.7 7.1 2 7.2 2.7 7.1 3.3 6.3 3.7 6.5 4.6 5.9 5.3 5.3 6.1 4 5.7 4 7.7 2.7 7.3 1.2 6.3-0.4 4.3 9.1 1.7-4.3 1.8-4.3 2.3-4 2.8-3.7 3.1-3.3 3.5-2.9 3.8-2.2 3.7-2.1 4.3-1.6 4.7-1 4.3-0.9 9 0.5 10 2.2 14.7-3.7-12.2-2-10.5-0.4-9.7 0.4-4.7 0.9-4.3 1.5-4.8 1.6-3.9 2-3.7 2.7-3.8 3-3.5 3.3-3.2 4-3.1 3.7-2.3-1.3-0.1-0.7-0.6 0.8-1 0.2-1.3-0.9-5-2.6-7-3.6-7-3.3-5-3.8-4.7-4.5-4.5-4.6-4.1-6-4.2-6.4-3.7-7.3-3.3-7.3-2.6-7.7-2.1-8.7-1.5-8-0.8-8.6-0.3-8 0.4-9 1-9 1.6-9.4 2.3-8.3 2.7-8.7 3.3-8.6 3.9-8.7 4.6 0-3.2 0.3-0.1 13.2-6.7 13.5-5.3 9.9-3 10.1-2.4 11.1-1.6zM522.2 789.3l7.2 0 7 0.4 12.9 2 6.3 1.6 5.9 2 6.2 2.7 5.7 3 4.8 3 4.9 3.7 4.3 3.9 4 4.2 6.4 8.5 6.2 11.4 1.7 2.3-0.3 0.4-2 0.7-1.9 0.2-1.3-3.6-1.9-4-2.7-4.7-3.3-4.7-7.2-7.9-8.3-6.9-7.7-4.7-7.7-3.6-8.6-3-9-2.1-10-1.2-10.4-0.3-11.3 0.8-10.3 1.7-10.7 2.8-11.3 3.9-10.4 4.6-10.3 5.7 0.2-3.4 12-6.4 12.8-5.3 9.4-3 9.6-2.3 10.5-1.7zM518.5 802.7l11.6 0.1 11.3 1.5 11.1 3 9.4 4 8.5 5 7.3 5.7 6.4 6.4 8.6 10.6 1.5 1.3 1.4 0.7-2.5 1-1.3 0.2-0.7-0.4-2-2-6.8-8.5-5.2-5.2-7-5.7-7.3-4.6-6.7-3.3-7.3-2.7-7.7-2-8-1.3-9-0.6-9 0.2-9 1.1-9.7 2-9 2.6-9.6 3.7-9.7 4.7-9 5.2 0-3.4 11.4-6.3 12.2-5.4 8.8-3 9.1-2.3 10-1.7zM513 816l10.1-0.2 9.9 0.9 9.3 2 9.4 3.3 8.5 4.3 7.3 5 8.6 7.5 4.7 4.7 1.3 2-0.7 0.3-1-0.2-2.6-1.3-9-7.7-5.4-4.1-5.6-3.7-6.4-3.2-6-2.4-7-2.1-6.6-1.3-7.4-0.7-8.3-0.1-8.3 0.7-8 1.5-8 2-8.4 2.9-8.3 3.7-8.3 4.4-7.7 4.8 0-3.5 10.4-6.2 10.4-5 8.9-3.3 8-2.3 8.1-1.7zM513.1 828.7l8.7-0.1 7.9 0.7 7.8 1.7 6.9 2.3 7.7 3.7 7.6 5 7.4 5.8 1.3 1.8 0.1 1.4-6.2-3-11.2-7.9-9-4.3-6-1.9-6.3-1.4-6-0.7-6.7-0.2-7.7 0.5-7 1.1-7 1.6-7.3 2.4-7.3 3-7.4 3.6-7.3 4.3-7 4.8 0-3.5 10.4-6.7 10.4-5.4 8.2-3.3 8.7-2.7 7.8-1.6zM511.4 841l11-0.2 5.1 0.5 5 1 7.9 2.7 13 6.6-0.5 9.7 1 8.7 2.7 8 2 4 2.4 3.7 5.8 6.6 7.3 5.9 9 5.3 11.8 5.5-0.8 0-10.4-3.3-10.3-4.4-7.7-4.6-6.6-5.7-3.7-4.4-3-4.6-2.3-4.9-1.7-4.9-1.2-6.2-0.4-6.3 0.5-7 1.1-0.7-2.9-1-6.7-3.6-4.4-1.6-8-1.7-9.6-0.5-9.7 0.9-10 2.3-9.7 3.3-10 4.8-9.6 5.9-8.7 6.5 0-3.7 9.7-6.9 10.5-6 8.1-3.7 7.5-2.7 7.8-2zM579.7 846.7l0.6 0-3 8-1.3 7.6 0 7 1.2 7.4 2.4 7 3.4 7 4 6.3 7.8 10.3 0.2 0.4-0.2 0.1-8.7-8.8-6.7-8.4-4.6-8.1-3.1-8.5-1-5.3-0.3-6 0.5-5.7 1.2-5.7 0.5-1.6 0.5-0.4zM513.8 852.3l6.3-0.3 6.3 0.3 8 1.4 4.4 1 0 0.3-3 1-11.4-1.2-9 0.1-8.6 1.3-9.7 2.7-9.7 3.9-10 5.4-9.6 6.7-8.7 7.4 0-3.8 0.5-0.5 10.5-8.3 10.6-6.7 8.2-4 8.8-3.3 7.6-2zM521.3 862.3l5.1-0.1 3.7 0.4 2 1.1 0 1.3-2-0.6-4.3 0.1-12 1.4-10.4 2.6-9.3 3.7-9 4.7-9.3 6.2-8.7 7.2-8 8 0-4.1 4.2-4.2 10.1-8.7 11-7.3 9.2-4.7 8.8-3.3 8.9-2.3zM530.1 870.7l1-0.3 0 3-11 1.5-11 3-10.3 4.2-9.7 5.4-8 5.7-8 6.9-7.6 7.9-6.4 8 0-4.6 6.7-7.9 5.1-5.2 5.2-4.6 5-4 6.3-4.4 9.5-5.3 10.5-4.3 9.6-2.7zM737 873.3l0.1 8.6-2 2.6-4.7 5.4-5 4.8-5.9 4.6-6.2 4-11 5.4-11.9 4-12.2 2.6-17.5 2.4-0.1-0.7 0.5-0.9 2-1.1 17.3-3.5 10-2.7 10-3.7 9-4.5 8-5.4 7.6-6.5 6.5-7.4zM530.8 877l0.3 0 1.8 5.3 2.1 4.4 4.7 7 6.1 6.1 3.6 2.7 4 2.4 8 3.2 8.4 1.8 9.3 0.7 15-0.3-14.2 2.4-10.5 0.4-5.3-0.4-4.5-0.7-4.9-1.3-4.3-1.7-5-2.7-4.6-3.3-4.3-4-3.7-4.6-3-4.8 0.2-5.6 0.4-0.3-0.3-2.9-2.5 1.5-12.5 4.2-9.3 4-9 5.1-8.4 5.9-8.3 7.3-7.8 8.5-7.1 9.4-6.1 9.9 0-5.5 6-9.1 4.3-5.6 5-5.7 5.4-5.4 4.9-4.3 10.1-7.3 5.6-3.4 6-3 6.4-2.6 6-2 8.7-2.4 2.9-0.3 0.3-0.3zM527.2 890.3l2.2-0.2-0.2 2.2 0.2 0.5-3 0-4.6 1.4-6.7 3-7.3 4-5.7 3.6-6.3 4.8-5.7 4.9-5.1 5.2-7.8 9.3-7.2 11-6 11.7-4.9 12.3 0-8 5.3-11.7 4.4-7.7 4.3-6.6 4.7-6.2 5-5.8 5.3-5.3 5.3-4.7 10.8-7.7 5.8-3.3 6.2-3 5.9-2.3zM530.3 896.3l0.6 0.4 0.6 2-0.6 0.6-14.1 8.2-7 4.6-8 6.4-7.4 7.2-5.7 6.6-5.8 8-5 8.4-4.3 8.6-3.7 9.4-3 9.6-2.3 10-1.6 10.7-0.9 12.3 0.1 13 1.2 12.4 2.3 13.6-2.7 0-2.2-13-1.1-10.6-0.3-12.7 0.6-12 1.4-11.5 2.4-11.1 3.3-11.1 4-10.2 4.7-9.4 5.3-8.7 6-8.1 7.1-7.9 6.8-6.3 6.9-5.4 8.2-5.3 11.3-6.1zM628.9 899l6.2-0.2 6.3 0.6 6.5 1.6 5.6 2.3 3.6 2 0.4 0.7 0 1 0.7 1.3 0 1 1.3 4-0.1 1.3-5.6-4.5-6-3.3-6.7-2.3-7.3-1.3-7-0.2-8 0.8-6.7 1.4-11.9 3.5-0.9 0 8.9-4 7.1-2.7 7.3-2zM736.9 903l0.2-0.2 0 6-0.3 0.2-5 3.7-6 3.6-6.1 3-6.7 2.7-9 2.7-10.8 2-10.6 1-14.2 0.5-3 0.5-1.6 0.8-0.4-0.5-0.6-3.1 18.6-1.3 9-1.1 10.4-2 9-2.7 7.3-2.9 7-3.7 6.7-4.3zM531.4 907.7l2.4-0.3 0.6 0.3 0.1 0.6-8.7 4.9-9.4 6.6-8.3 7.2-7.3 7.7-5.2 6.6-4.9 7.4-4.5 8-3.6 8-3.3 9-2.4 8.3-2 9.3-1.2 9.4-0.8 12 0.3 12 1.1 11 2.2 12.6-2.7 0-2-11.4-1.1-9.9-0.5-11 0.3-11 1.3-11.3 1.6-9 2.7-10.2 3.7-10.3 4.3-9.4 5-8.8 5.3-7.7 6.4-7.6 6.7-6.7 8-6.7 9.4-6.3zM598 910l8.7 0.3 6.8 0.7 10.3 2 5.2 1.7 4.6 2 4.7 2.6 4.1 3 4 3.8 3.7 4.4 3 4.9 2.3 5 2 6.5 1.1 6.4 0.3 4.4-1.3 3 1.3 1.4 3.3 2.4 9 5.3 6.3 3 6.7 2.7 7 2.3 7 1.7 9.3 1.4 10 0.5 9.7-0.6 10-1.6 0 4.1-9.7 1.5-10 0.5-10-0.6-9.9-1.7-12.5-3.7-11.3-5-6-3.3-5.6-3.7-3.6-3-1.4-2.1-0.5 0.5-0.5 1.4-3.4-0.1 0.1-5.3-0.3-5-0.9-5-1.4-5-1.9-4.7-2.3-4.3-3.1-4.4-3.4-3.6-3.4-3.1-4-2.8-4-2.3-5-2.3-10.7-3.4zM596.6 910.7l0.5 3.1 0.5 10.9-0.1 6.6-0.6 5.4-1.1 6-1.4 4.5-1.6 4.1-2.4 4.4-3.3 4.8-3.7 4-4.6 3.8-4.7 3-6.5 3-7.5 2.2-2.5-2.5-2.3 4-1.8 4.7-1.5 6.3-1.1 6.7-0.5 7.3-0.1 6.7 0.7 9.6 1.6 10 2.3 9.4 3.4 9.6-3.1 0-2.8-8.1-2.3-9-1.3-7.4-1-9.1-0.1-8 0.4-7.8 1.3-9.1 1.7-6.7 4.7-12 4-0.7 5.3-1.6 4.7-1.9 4.3-2.5 4-2.8 3.6-3.3 3.2-3.6 2.8-4 3.9-7.7 2.7-9 1.6-10.3zM594.4 911.3l0.5 0-8.1 6.4-8.6 5.6-7.4 3.7-8 2.6-4.7 0.8-5 0.3-5-0.2-4.8-0.8-2.2-0.6 0-0.8-1.1-2.3 0-1-0.6-0.8-0.6 1.5-1.7 2-8.7 7.8-5.1 5.2-8.1 10-6.3 10-5 10.3-3.9 11-2.7 11-1.8 13-0.3 14.3 1.1 14 2.6 14-2.8 0-2.7-14.5-1-12.1 0.2-13.4 1.5-13.3 3-13 4-11.4 5.3-11 6.4-10 4.3-5.7 5.3-5.9 5.5-5.3 9.9-8.6 1.1-1.1 0.2-0.8 6.7 2.2 6.3 1 6.7 0.1 6.6-0.9 6.4-1.7 6.6-2.7 7.4-3.7zM598.9 911.3l0.5 0 6.7 4 8.2 5.7 5.8 5 5 5.5 4.7 7.2 2 4.3 1.3 4 1 4.3 0.5 4.4 0.2 4.3-0.4 4.7 0.7 0.1 1-0.6 1.4 0.1 6.2 9 4.9 6 6.8 7 7 5.8 7.4 5 7.6 4.4 7.4 3.3 8.3 3 11 2.7 10.7 1.4 11 0.2 11.3-1 0 3.9-6.7 0.7-7.6 0.3-7.4-0.3-6.6-0.7-7.6-1.3-6.6-1.7-7-2.3-6.5-2.7-10.7-5.7-10.5-7.3-6.5-5.7-5.6-5.8-4.4-5.2-7.7-10.3-2.3-1.5-0.6 0-2.4 1-0.9 1.2 0.4 2.6 2.3 4.4 4.4 6.6 9 11.4 9.8 9.5 8 6.3 8 5.1 8.4 4.2 9.3 3.7 11.7 3.3 11.3 1.8 12.3 0.6 12.7-0.9 0 3.8-11 0.7-11-0.2-10-1.3-11.7-2.6-10.5-3.7-9.8-4.7-9.3-5.6-8.7-6.7-8-7.5-7.3-8.4-7-9.8-5-8.7-1.2-3.3 1.2-0.6 0.8-4.7 0.3-5.7-0.4-5.3-2-8.3-1.6-4-2.3-4.4-4.1-6-5.1-5.6-6-5.5zM598 912l5.4 8.8 4.4 8.6 3 8.4 1.4 7.5 0.4 4.4-0.2 4.6-0.6 4.7-1 4.2-1.7 4.6-2 4.1-3.3 5.1-1 0.7 4.5 13 3.9 9.3 4.4 8.7 4.3 7.3 5.4 7.7 6.1 7.3 6 6.2 6.4 5.6 7.3 5.5-5.6 0-4.6-3.6-5.2-4.7-5.3-5.4-5-5.8-4.3-5.8-7.3-11.8-6-12.6-3-7.8-2.4-7.3-0.5-3.2 0.4-2.3-0.2-0.2-4.3 1.9-2 0-1.6 0.6 4.8 16 3.6 10.4 5.6 12 6.4 10.6 7.2 9.7 8.7 9.3-4.5 0-4.9-5.3-5-6.3-4.7-6.7-4-6.7-3.6-7.3-3.4-7.8-3.3-9.6-4.1-14.9-1.5-3 1.8-1 4.7-5 3.3-4.7 2.5-4.7 1.8-4.3 1.3-5 0.8-5 0.1-5.3-0.6-7-1.9-8.4-2.7-7.6zM595.4 912.3l0.2 0-0.2 0.7-2.6 5.9-4.7 9.1-4.3 6.5-4.7 5.6-3.3 3.1-3.7 2.8-7.1 4-8.1 2.7-4.5 0.7-4.3 0.3-2 4.4-5.5 8.6-3 5.6-3.3 8-2.4 7.7-1.9 9-1 8-0.4 10.7 0.7 10.6 1.6 10.4 3 11.6-3 0-3.1-13.2-1.6-12.8-0.2-12.3 1.1-11.9 2-9.7 3.3-10.3 5-10.7 9.9-16.1-0.9-3.5 7-0.4 7.4-1.6 7-2.9 6-3.8 5.3-4.5 5.4-5.9 5.1-7zM536.4 914.3l1 3.2-7 4-8.6 6.8-7.4 7-6.9 8-4.5 6.4-4.1 6.6-3.6 7-3.4 8-2.6 7.7-2.1 7.7-1.6 8.3-1 8.3-0.6 11 0.3 11.4 1.3 11.6 2 11-2.8 0-1.7-9-1.3-10.6-0.6-10.7 0.2-10.3 1-10.2 1.7-9.5 2.3-9.1 3-8.9 3.7-8.4 4-7.6 4.7-7.3 6-7.9 5.6-6.2 6.5-5.9 6.2-5zM736.7 925.3l0.4-0.2 0 5-1.6 0.9-5.8 2.7-6.4 2.3-7.1 2-6.9 1.3-10.9 1.1-12.1-0.1-16.2-1.6-3.3-0.7-3-1.1 0-3.3 2 1.2 3.3 1 12 1.1 13.3 0.2 12.4-1.3 8-1.6 7.6-2.3 7.7-3.1zM541.3 934.7l1.1-0.3 0.7 2.3-1.3 0-1.7 0.9-5.6 5.4-6.8 8-5.8 8.3-3.3 5.7-2.9 6-2.7 6.7-2 6-3 12.6-1.5 13-0.2 9.7 0.6 9.7 1.4 10 2.1 9.6-2.9 0-1.7-7.9-1.4-8.7-0.7-7.7-0.2-8.7 0.3-7.6 1-8.8 1.3-7.4 2-7.8 2.7-7.9 3-7 3.3-6.5 4.3-7 5-6.8 6-6.8 5-4.7zM544.4 942l1.1 3-0.1 0.8-4.6 4.6-3.1 3.6-4.1 5.7-3.7 6-3 6-2.6 6-2.1 6-1.9 7-1.4 7-0.9 7.3-0.4 14 0.4 7 0.9 7.7 3.1 14.6-2.9 0-3-14.3-1-8.7-0.4-6.6 0.1-7.7 0.6-8 2.4-13.3 1.6-6 2.4-6.7 2.6-6.2 3-5.8 6-9.4 9.2-10.9zM736.6 944.7l0.5-0.2 0 4.5-1.7 0.7-6.4 2-7.5 1.6-7.1 1-6 0.4-10-0.2-10.5-1.2-12.6-2.6-12.2-3.7 1-0.9 2-0.1 22.3 4.2 8.7 0.8 8.7 0.1 8-0.6 8-1.3 7.6-2zM660.7 953.7l0.4-0.2 8.3 3.7 10 3.6 7.4 2.1 7.6 1.6 11 1.4 10.7 0 10.3-1.1 10.7-2.5 0 4.3-9.6 2.1-10.4 1-10 0-11-1.4-7.6-1.6-6.9-2-7.3-2.7-10.9-4.5-3.6-1.1 0.1-1.4zM645.3 964.3l2.5 0 1 0.7 10 9.4 9.6 7.2 8.7 4.9 9 4 6.7 2.3 6.3 1.7 12.3 1.9 12.7 0.4 13-1.4 0 4-13 1.3-12.3-0.4-7-1-6.5-1.3-11.8-3.7-11.6-5.3-10.6-6.7-8.8-7.3zM550 965.3l0.8-0.2 0.5 0.2-5 10.7-3.4 10-1.9 8.7-1 8-0.4 11.3 1 11.7 2 11 3.4 11.6-3.1 0-3.1-11.2-2-11.3-0.9-11.5 0.4-11 1.5-10.8 3-11.2 4.6-11.1 2-3.3zM617.1 972l1.4 0.3 1.7 1.7 11 18.3 5.1 7 5.6 6.7 5.5 5.7 5.7 5.1 6 4.7 7 4.6 6.7 3.7 7 3.3 7.3 2.8 7.7 2.3 10.6 2.2 10 1.1 10.7 0.3 11-0.8 0 3.6-9.7 0.7-9 0-9-0.7-9.7-1.6-9.3-2.3-8.7-3-8.3-3.7-7.9-4.3-8.1-5.4-6.7-5.3-6.6-6.2-6-6.6-5.3-6.9-5.4-7.9-5.3-9.3-5-9.6zM610.4 974.7l0.8 0 2.1 5.6 3.3 7.4 7.7 14 6.6 9.6 8.2 9.7 9 8.5 10.3 7.7 10.4 6 11.5 5.1-8.9 0-8.3-4.3-7-4.3-6.4-4.7-6.3-5.3-5.6-5.6-5.4-6-4.6-6.1-8-12.6-4-7.8-7.5-15.9zM560.6 978l0.2-0.2 1 1.2 0.3 1.3-1.2 12-0.4 7.7 0.2 8 0.9 9 1.6 8.7 2.1 7.6 2.6 7.7 3.1 7.3-3.2 0-1.7-4-4.3-13-2.7-12.9-1-10.4 0-9 0.7-8.5zM569.1 980.7l2.6 0.3-0.8 1.7-0.6 3-0.3 9.6 0.9 11.7 1.7 10.3 2.1 8 2.6 8 3.2 7.7 3.7 7.3-3.3 0-1.5-2.8-5.3-12.7-3.7-12.8-1.6-9.3-1-11.7 0.2-11zM585.5 981l2.4 0-0.7 1.7 0 2.6 1.7 10.7 3 11.7 4.1 11.3 3.6 8 4 7.3 5 7.7 4.8 6.3-3.9 0-1.7-2.3-7.4-11.3-3.3-6.3-3-6.6-4-11.2-3-11.7-1.9-12.2-0.1-3.4zM575 981.7l2.3 0 0.5 1.3 3.1 22.7 2 8.6 2.3 7.7 2.7 7 3.1 6.7 3.3 6.3 3.9 6.3-3.6 0-0.2-0.3-6.3-11.5-5-12.2-2.3-7.6-2-8.7-1.4-8.4-1.3-14.9z" fill="#A64C62"/>
</g>
<g fill="none" stroke-linejoin="round" stroke-linecap="round">
<path d="M531.2 872.4C531.9 866.5 530.3 860.2 533.2 856.8C536.1 853.4 543.3 852.8 548.8 852.0C554.3 851.2 560.1 853.3 566.3 852.0C572.5 850.7 578.7 846.6 585.9 844.1C593.1 841.6 602.1 837.9 609.3 837.3C616.4 836.6 623.4 837.6 628.8 840.2C634.2 842.8 638.6 847.9 641.5 852.9C644.4 857.9 644.2 863.7 646.3 870.5C648.4 877.3 652.0 887.1 654.1 893.9C656.2 900.7 657.4 905.3 659.0 911.5C660.6 917.7 663.2 924.8 663.9 931.0C664.5 937.2 664.2 943.0 662.9 948.5C661.6 954.0 660.5 961.5 656.1 964.1C651.7 966.7 643.1 962.8 636.6 964.1C630.1 965.4 623.6 969.4 617.1 972.0C610.6 974.6 604.1 978.2 597.6 979.8C591.1 981.4 583.9 981.7 578.0 981.7C572.1 981.7 566.8 982.4 562.4 979.8C558.0 977.2 554.5 971.6 551.7 966.1C549.0 960.6 547.7 952.8 545.9 946.6C544.1 940.4 542.8 935.2 541.0 929.0C539.2 922.8 537.1 915.7 535.1 909.5C533.1 903.3 529.9 898.2 529.3 892.0C528.6 885.8 530.6 878.3 531.2 872.4Z" stroke="#FF2E8A" stroke-width="50" filter="url(#b7)" opacity="0.4"/>
<path d="M531.2 872.4C531.9 866.5 530.3 860.2 533.2 856.8C536.1 853.4 543.3 852.8 548.8 852.0C554.3 851.2 560.1 853.3 566.3 852.0C572.5 850.7 578.7 846.6 585.9 844.1C593.1 841.6 602.1 837.9 609.3 837.3C616.4 836.6 623.4 837.6 628.8 840.2C634.2 842.8 638.6 847.9 641.5 852.9C644.4 857.9 644.2 863.7 646.3 870.5C648.4 877.3 652.0 887.1 654.1 893.9C656.2 900.7 657.4 905.3 659.0 911.5C660.6 917.7 663.2 924.8 663.9 931.0C664.5 937.2 664.2 943.0 662.9 948.5C661.6 954.0 660.5 961.5 656.1 964.1C651.7 966.7 643.1 962.8 636.6 964.1C630.1 965.4 623.6 969.4 617.1 972.0C610.6 974.6 604.1 978.2 597.6 979.8C591.1 981.4 583.9 981.7 578.0 981.7C572.1 981.7 566.8 982.4 562.4 979.8C558.0 977.2 554.5 971.6 551.7 966.1C549.0 960.6 547.7 952.8 545.9 946.6C544.1 940.4 542.8 935.2 541.0 929.0C539.2 922.8 537.1 915.7 535.1 909.5C533.1 903.3 529.9 898.2 529.3 892.0C528.6 885.8 530.6 878.3 531.2 872.4Z" stroke="#F0209A" stroke-width="25" filter="url(#b3)" opacity="0.78"/>
<path d="M531.2 872.4C531.9 866.5 530.3 860.2 533.2 856.8C536.1 853.4 543.3 852.8 548.8 852.0C554.3 851.2 560.1 853.3 566.3 852.0C572.5 850.7 578.7 846.6 585.9 844.1C593.1 841.6 602.1 837.9 609.3 837.3C616.4 836.6 623.4 837.6 628.8 840.2C634.2 842.8 638.6 847.9 641.5 852.9C644.4 857.9 644.2 863.7 646.3 870.5C648.4 877.3 652.0 887.1 654.1 893.9C656.2 900.7 657.4 905.3 659.0 911.5C660.6 917.7 663.2 924.8 663.9 931.0C664.5 937.2 664.2 943.0 662.9 948.5C661.6 954.0 660.5 961.5 656.1 964.1C651.7 966.7 643.1 962.8 636.6 964.1C630.1 965.4 623.6 969.4 617.1 972.0C610.6 974.6 604.1 978.2 597.6 979.8C591.1 981.4 583.9 981.7 578.0 981.7C572.1 981.7 566.8 982.4 562.4 979.8C558.0 977.2 554.5 971.6 551.7 966.1C549.0 960.6 547.7 952.8 545.9 946.6C544.1 940.4 542.8 935.2 541.0 929.0C539.2 922.8 537.1 915.7 535.1 909.5C533.1 903.3 529.9 898.2 529.3 892.0C528.6 885.8 530.6 878.3 531.2 872.4Z" stroke="#1C1CFF" stroke-width="15.5" filter="url(#b2)" opacity="0.96"/>
</g>
<g fill="none" stroke-linejoin="round" stroke-linecap="round">
<path d="M533.4 858.0C536.0 857.0 543.3 853.0 548.8 852.0C554.3 851.0 560.1 853.3 566.3 852.0C572.5 850.7 578.7 846.6 585.9 844.1C593.1 841.6 602.1 837.9 609.3 837.3C616.4 836.6 623.4 837.6 628.8 840.2C634.2 842.8 638.8 848.6 641.5 852.9C644.2 857.2 644.4 863.8 645.0 866.0" stroke="#00C4FF" stroke-width="8.6" filter="url(#b2)"/>
</g>
<g fill="none" stroke-linejoin="round" stroke-linecap="round">
<path d="M661.0 955.0C659.8 956.6 658.1 963.1 654.0 964.6C649.9 966.1 642.8 962.9 636.6 964.1C630.5 965.3 623.6 969.4 617.1 972.0C610.6 974.6 604.1 978.2 597.6 979.8C591.1 981.4 583.9 981.7 578.0 981.7C572.1 981.7 566.6 982.1 562.4 979.8C558.2 977.5 554.9 972.1 552.6 968.0C550.3 963.9 549.1 957.2 548.4 955.0" stroke="#00C4FF" stroke-width="8.6" filter="url(#b2)"/>
</g>
<g fill="none" stroke-linejoin="round" stroke-linecap="round">
<path d="M588.0 843.6C591.5 842.5 602.5 837.9 609.3 837.3C616.1 836.7 623.6 837.8 628.8 840.2C634.0 842.6 638.5 849.7 640.5 851.6" stroke="#14E428" stroke-width="8.4" filter="url(#b2)"/>
</g>
<g fill="none" stroke-linejoin="round" stroke-linecap="round">
<path d="M596.0 980.0C593.0 980.3 583.6 981.7 578.0 981.7C572.4 981.7 566.6 982.0 562.4 979.8C558.2 977.6 554.6 970.5 553.0 968.6" stroke="#14E428" stroke-width="8.4" filter="url(#b2)"/>
</g>
<g transform="translate(531.4 872.4) rotate(6)"><ellipse rx="12.0" ry="23.7" fill="#00C4FF" filter="url(#b2)"/><ellipse rx="9.4" ry="18.5" fill="#14E428" filter="url(#b15)"/><ellipse rx="5.8" ry="11.5" fill="#E6F000" filter="url(#b15)"/><ellipse rx="3.2" ry="6.3" fill="#FF7A00" filter="url(#b15)"/></g>
<g transform="translate(630 842.4) rotate(30)"><ellipse rx="22.4" ry="13.4" fill="#00C4FF" filter="url(#b2)"/><ellipse rx="17.5" ry="10.5" fill="#14E428" filter="url(#b15)"/><ellipse rx="7.3" ry="4.4" fill="#C4F000" filter="url(#b15)"/></g>
<g transform="translate(662.6 948.2) rotate(8)"><ellipse rx="13.3" ry="25.0" fill="#00C4FF" filter="url(#b2)"/><ellipse rx="10.4" ry="19.5" fill="#14E428" filter="url(#b15)"/><ellipse rx="6.4" ry="12.1" fill="#E6F000" filter="url(#b15)"/><ellipse rx="3.5" ry="6.6" fill="#FF7A00" filter="url(#b15)"/></g>
<g transform="translate(570 980.4) rotate(8)"><ellipse rx="24.3" ry="12.3" fill="#00C4FF" filter="url(#b2)"/><ellipse rx="19.0" ry="9.6" fill="#14E428" filter="url(#b15)"/><ellipse rx="8.6" ry="4.3" fill="#B0F000" filter="url(#b15)"/></g>
</g>
<clipPath id="c12"><rect x="758.9" y="897.5" width="147.1" height="144.6"/></clipPath>
<rect x="758.9" y="897.5" width="147.1" height="144.6" fill="#47005B"/>
<g clip-path="url(#c12)">
<g fill="none" stroke-linejoin="round" stroke-linecap="round">
<path d="M800.1 965.4C800.3 962.2 805.9 956.9 810.0 953.0C814.1 949.1 819.3 945.0 824.7 942.0C830.1 939.0 836.7 936.4 842.3 935.0C847.9 933.6 855.0 931.6 858.1 933.8C861.2 936.0 860.3 942.5 861.0 948.0C861.7 953.5 862.0 960.3 862.2 966.5C862.4 972.7 862.5 979.3 862.4 985.0C862.3 990.7 863.2 998.4 861.6 1000.5C860.0 1002.6 855.8 998.8 853.0 997.4C850.2 996.0 847.9 994.4 844.6 992.3C841.3 990.2 836.7 987.3 833.0 985.0C829.3 982.7 826.4 980.4 822.4 978.3C818.4 976.2 812.7 974.5 809.0 972.4C805.3 970.2 799.9 968.6 800.1 965.4Z" stroke="#E3129B" stroke-width="40" filter="url(#b4)" opacity="0.45"/>
<path d="M800.1 965.4C800.3 962.2 805.9 956.9 810.0 953.0C814.1 949.1 819.3 945.0 824.7 942.0C830.1 939.0 836.7 936.4 842.3 935.0C847.9 933.6 855.0 931.6 858.1 933.8C861.2 936.0 860.3 942.5 861.0 948.0C861.7 953.5 862.0 960.3 862.2 966.5C862.4 972.7 862.5 979.3 862.4 985.0C862.3 990.7 863.2 998.4 861.6 1000.5C860.0 1002.6 855.8 998.8 853.0 997.4C850.2 996.0 847.9 994.4 844.6 992.3C841.3 990.2 836.7 987.3 833.0 985.0C829.3 982.7 826.4 980.4 822.4 978.3C818.4 976.2 812.7 974.5 809.0 972.4C805.3 970.2 799.9 968.6 800.1 965.4Z" stroke="#F0149A" stroke-width="24" filter="url(#b2)" opacity="0.95"/>
</g>
<g fill="none" stroke-linejoin="round" stroke-linecap="round">
<path d="M858.0 1000.0C858.6 997.5 860.9 990.6 861.6 985.0C862.3 979.4 862.4 972.7 862.2 966.5C862.0 960.3 861.3 953.5 860.6 948.0C859.9 942.5 861.2 936.0 858.1 933.8C855.0 931.6 847.9 933.6 842.3 935.0C836.7 936.4 830.1 939.0 824.7 942.0C819.3 945.0 814.1 949.1 810.0 953.0C805.9 956.9 800.3 962.2 800.1 965.4C799.9 968.6 805.4 970.2 809.0 972.4C812.6 974.6 819.8 977.6 822.0 978.6" stroke="#1C1CFF" stroke-width="11.5" filter="url(#b15)"/>
</g>
<g fill="none" stroke-linejoin="round" stroke-linecap="round">
<path d="M803.0 962.5C804.5 961.0 808.2 956.5 812.0 953.6C815.8 950.7 821.0 947.4 826.0 945.0C831.0 942.6 837.0 940.7 842.0 939.4C847.0 938.1 853.7 937.4 856.0 937.0" stroke="#1C1CFF" stroke-width="15" filter="url(#b15)"/>
</g>
<g fill="none" stroke-linejoin="round" stroke-linecap="round">
<path d="M822.0 978.6C823.8 979.7 829.0 982.5 833.0 985.0C837.0 987.5 842.2 991.3 846.0 993.6C849.8 995.9 854.3 998.1 856.0 999.0" stroke="#A018D8" stroke-width="10.5" filter="url(#b2)"/>
</g>
<g fill="none" stroke-linejoin="round" stroke-linecap="round">
<path d="M856.4 936.4C854.0 936.6 847.4 936.1 842.3 937.4C837.2 938.7 831.0 941.2 826.0 944.0C821.0 946.8 815.8 950.7 812.0 954.0C808.2 957.3 804.5 962.3 803.0 964.0" stroke="#1A86FF" stroke-width="7" filter="url(#b2)"/>
</g>
<path d="M820.5 964.6C819.8 959.4 830.6 954.0 836.0 951.0C841.4 948.0 849.5 943.6 853.0 946.4C856.5 949.2 856.5 960.7 857.0 968.0C857.5 975.3 858.8 987.7 856.0 990.0C853.2 992.3 845.9 986.2 840.0 982.0C834.1 977.8 821.2 969.8 820.5 964.6Z" fill="#E8128E" filter="url(#b2)"/>
<ellipse cx="844.2" cy="969.6" rx="7.2" ry="15.5" fill="#5C0668" filter="url(#b2)" transform="rotate(10 844.2 969.6)"/>
<g transform="translate(800.3 965.4) rotate(0)"><ellipse rx="8.6" ry="7.8" fill="#00C4FF" filter="url(#b15)"/><ellipse rx="5.3" ry="4.8" fill="#14E428" filter="url(#b15)"/><ellipse rx="3.3" ry="3.0" fill="#30F020" filter="url(#b15)"/></g>
<g transform="translate(857.6 934.2) rotate(-35)"><ellipse rx="8.0" ry="7.4" fill="#00C4FF" filter="url(#b15)"/><ellipse rx="4.8" ry="4.4" fill="#14E428" filter="url(#b15)"/></g>
<g transform="translate(861.4 1000.2) rotate(-3)"><ellipse rx="5.4" ry="11.0" fill="#00C4FF" filter="url(#b15)"/><ellipse rx="3.1" ry="6.4" fill="#14E428" filter="url(#b15)"/><ellipse rx="1.8" ry="3.7" fill="#E6F000" filter="url(#b15)"/></g>
</g>
</svg>
</body>
</html>
